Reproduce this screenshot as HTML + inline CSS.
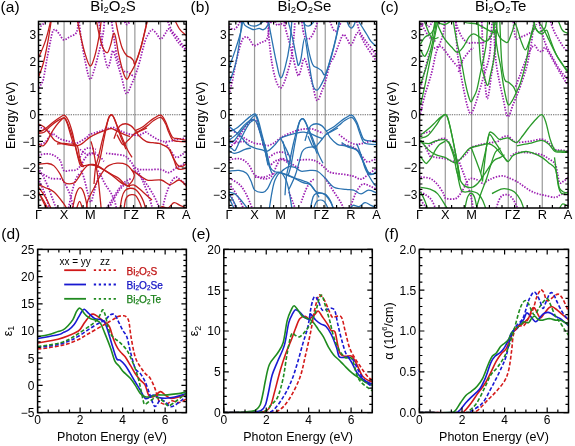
<!DOCTYPE html>
<html><head><meta charset="utf-8"><style>
html,body{margin:0;padding:0;background:#fff;width:575px;height:446px;overflow:hidden;}
svg{display:block;will-change:transform;font-family:"Liberation Sans", sans-serif;}
</style></head><body>
<svg width="575" height="446" viewBox="0 0 575 446" font-family='"Liberation Sans", sans-serif'>
<rect width="575" height="446" fill="#fff"/>
<clipPath id="clipa"><rect x="38.5" y="21.4" width="147.8" height="186.6"/></clipPath>
<line x1="64.07" y1="21.4" x2="64.07" y2="208" stroke="#999" stroke-width="1.2"/>
<line x1="90.23" y1="21.4" x2="90.23" y2="208" stroke="#999" stroke-width="1.2"/>
<line x1="126.74" y1="21.4" x2="126.74" y2="208" stroke="#999" stroke-width="1.2"/>
<line x1="134.87" y1="21.4" x2="134.87" y2="208" stroke="#999" stroke-width="1.2"/>
<line x1="160.58" y1="21.4" x2="160.58" y2="208" stroke="#999" stroke-width="1.2"/>
<line x1="38.5" y1="114.7" x2="186.3" y2="114.7" stroke="#6a6a6a" stroke-width="1.1" stroke-dasharray="1.3,1.0"/>
<g clip-path="url(#clipa)" fill="none">
<path d="M38,90.71C38.42,89.82 39.6,87.33 40.5,85.38C41.4,83.42 42.32,83.42 43.4,78.98C44.48,74.54 45.8,65.16 47,58.72C48.2,52.28 49.68,44.77 50.6,40.33C51.52,35.88 51.77,33.84 52.5,32.06C53.23,30.29 53.87,29.35 55,29.66C56.13,29.97 57.85,32.24 59.3,33.93C60.75,35.62 61.98,39.3 63.7,39.79C65.42,40.28 67.65,37.84 69.6,36.86C71.55,35.88 74.07,35.35 75.4,33.93C76.73,32.51 77.12,30.86 77.6,28.33C78.08,25.8 78.18,20.33 78.3,18.73" stroke="#9c1eb2" stroke-width="1.75" stroke-dasharray="1.45,1.4"/>
<path d="M78.3,13.4C78.75,17.4 79.78,29.09 81,37.39C82.22,45.7 84.1,56.28 85.6,63.25C87.1,70.23 88.53,78.27 90,79.25C91.47,80.22 92.95,73.47 94.4,69.12C95.85,64.76 97.25,58.99 98.7,53.12C100.15,47.26 102.13,39.66 103.1,33.93C104.07,28.2 104.27,21.27 104.5,18.73" stroke="#9c1eb2" stroke-width="1.75" stroke-dasharray="1.45,1.4"/>
<path d="M98,13.4C98.33,16.07 99.17,23.62 100,29.4C100.83,35.17 102,42.5 103,48.06C104,53.61 105.13,59.48 106,62.72C106.87,65.96 107.45,67.96 108.2,67.52C108.95,67.07 109.7,62.85 110.5,60.05C111.3,57.25 111.87,50.19 113,50.72C114.13,51.26 115.85,58.76 117.3,63.25C118.75,67.74 120.2,72.58 121.7,77.65C123.2,82.71 124.6,92.66 126.3,93.64C128,94.62 130.45,86.44 131.9,83.51C133.35,80.58 133.78,79.42 135,76.05C136.22,72.67 137.53,69.03 139.2,63.25C140.87,57.48 143.3,46.5 145,41.39C146.7,36.28 148.18,34.55 149.4,32.6C150.62,30.64 151.08,29.44 152.3,29.66C153.52,29.89 155.3,32.37 156.7,33.93C158.1,35.48 159.25,39.08 160.7,38.99C162.15,38.9 164.13,35.08 165.4,33.4C166.67,31.71 167.08,28.78 168.3,28.86C169.52,28.95 171,31.62 172.7,33.93C174.4,36.24 176.2,39.93 178.5,42.73C180.8,45.52 185.17,49.39 186.5,50.72" stroke="#9c1eb2" stroke-width="1.75" stroke-dasharray="1.45,1.4"/>
<path d="M110.5,13.4C111.38,19.49 114.43,41.88 115.8,49.92C117.17,57.96 117.48,58.23 118.7,61.65C119.92,65.07 121.63,68.72 123.1,70.45C124.57,72.18 126.18,71.34 127.5,72.05C128.82,72.76 129.93,74.05 131,74.71C132.07,75.38 133.42,75.82 133.9,76.05" stroke="#9c1eb2" stroke-width="1.75" stroke-dasharray="1.45,1.4"/>
<path d="M165,13.4C166.03,16.11 169.2,25.75 171.2,29.66C173.2,33.57 175.05,34.2 177,36.86C178.95,39.53 181.32,43.44 182.9,45.66C184.48,47.88 185.9,49.43 186.5,50.19" stroke="#9c1eb2" stroke-width="1.75" stroke-dasharray="1.45,1.4"/>
<path d="M38,24.07C38.5,24.38 40,26.15 41,25.93C42,25.71 43.33,23.93 44,22.73C44.67,21.53 44.83,19.4 45,18.73" stroke="#9c1eb2" stroke-width="1.75" stroke-dasharray="1.45,1.4"/>
<path d="M122,13.4C122.67,15.18 124.67,22.73 126,24.07C127.33,25.4 128.67,23.18 130,21.4C131.33,19.62 133.33,14.74 134,13.4" stroke="#9c1eb2" stroke-width="1.75" stroke-dasharray="1.45,1.4"/>
<path d="M38,126.7C39.02,127.05 41.3,127.45 44.1,128.83C46.9,130.21 52.12,133.27 54.8,134.96C57.48,136.65 58.4,138.03 60.2,138.96C62,139.89 63.8,140.07 65.6,140.56C67.4,141.05 69.2,141.45 71,141.89C72.8,142.33 74.62,143.45 76.4,143.22C78.18,143 79.92,141.58 81.7,140.56C83.48,139.54 85.72,138.11 87.1,137.09C88.48,136.07 88.1,135.31 90,134.43C91.9,133.54 94.85,132.92 98.5,131.76C102.15,130.61 108.77,127.85 111.9,127.5C115.03,127.14 115.28,128.83 117.3,129.63C119.32,130.43 121.77,131.49 124,132.29C126.23,133.09 128.23,133.94 130.7,134.43C133.17,134.91 136.42,135.58 138.8,135.23C141.18,134.87 143.47,132.92 145,132.29C146.53,131.67 147.5,131.63 148,131.49" stroke="#9c1eb2" stroke-width="1.75" stroke-dasharray="1.45,1.4"/>
<path d="M38,144.56C38.33,144.56 38.77,145 40,144.56C41.23,144.11 43.82,143.22 45.4,141.89C46.98,140.56 48.07,137.98 49.5,136.56C50.93,135.14 53.25,133.89 54,133.36" stroke="#9c1eb2" stroke-width="1.75" stroke-dasharray="1.45,1.4"/>
<path d="M38,155.22C39.47,155 44.22,153.89 46.8,153.89C49.38,153.89 51.27,154.11 53.5,155.22C55.73,156.33 58.5,158.02 60.2,160.55C61.9,163.08 61.98,168.77 63.7,170.41C65.42,172.06 68.35,170.55 70.5,170.41C72.65,170.28 74.85,170.5 76.6,169.61C78.35,168.73 79.5,167.13 81,165.08C82.5,163.04 84.08,159.35 85.6,157.35C87.12,155.35 88.35,153.57 90.1,153.09C91.85,152.6 94.35,153.71 96.1,154.42C97.85,155.13 99.28,156.2 100.6,157.35C101.92,158.51 103.43,160.68 104,161.35" stroke="#9c1eb2" stroke-width="1.75" stroke-dasharray="1.45,1.4"/>
<path d="M80,149.35C80.83,150.02 83.33,152.46 85,153.35C86.67,154.24 88.17,154.91 90,154.69C91.83,154.46 95,152.46 96,152.02" stroke="#9c1eb2" stroke-width="1.75" stroke-dasharray="1.45,1.4"/>
<path d="M80,157.35C80.83,156.02 83.33,150.91 85,149.35C86.67,147.8 88.17,148.02 90,148.02C91.83,148.02 95,149.13 96,149.35" stroke="#9c1eb2" stroke-width="1.75" stroke-dasharray="1.45,1.4"/>
<path d="M38,172.55C39,172.9 41.83,173.7 44,174.68C46.17,175.66 48.08,177.66 51,178.41C53.92,179.17 59.17,178.28 61.5,179.21C63.83,180.14 63.58,181.43 65,184.01C66.42,186.59 68.5,190.23 70,194.67C71.5,199.11 73.33,208 74,210.67" stroke="#9c1eb2" stroke-width="1.75" stroke-dasharray="1.45,1.4"/>
<path d="M38,168.01C38.83,169.35 41.33,172.9 43,176.01C44.67,179.12 46.33,182.68 48,186.67C49.67,190.67 51.5,196 53,200C54.5,204 56.33,208.89 57,210.67" stroke="#9c1eb2" stroke-width="1.75" stroke-dasharray="1.45,1.4"/>
<path d="M38,178.68C38.67,180.01 40.67,183.56 42,186.67C43.33,189.78 44.67,193.34 46,197.34C47.33,201.34 49.33,208.44 50,210.67" stroke="#9c1eb2" stroke-width="1.75" stroke-dasharray="1.45,1.4"/>
<path d="M68,210.67C68.67,207.56 70.67,197.34 72,192.01C73.33,186.67 74.67,181.79 76,178.68C77.33,175.57 79.33,174.23 80,173.35" stroke="#9c1eb2" stroke-width="1.75" stroke-dasharray="1.45,1.4"/>
<path d="M81,170.68C81.5,171.88 82.92,174.32 84,177.88C85.08,181.43 86.37,187.96 87.5,192.01C88.63,196.05 89.72,202.14 90.8,202.14C91.88,202.14 92.87,195.78 94,192.01C95.13,188.23 96.6,182.59 97.6,179.48C98.6,176.37 99.6,174.37 100,173.35" stroke="#9c1eb2" stroke-width="1.75" stroke-dasharray="1.45,1.4"/>
<path d="M106,153.35C106.98,153.44 110.23,153.71 111.9,153.89C113.57,154.06 113.82,154.06 116,154.42C118.18,154.77 122.5,154.77 125,156.02C127.5,157.26 129,159.75 131,161.88C133,164.02 134.23,167.53 137,168.81C139.77,170.1 143.58,169.48 147.6,169.61C151.62,169.75 157.6,169.13 161.1,169.61C164.6,170.1 166.1,172.81 168.6,172.55C171.1,172.28 173.85,169.26 176.1,168.01C178.35,166.77 180.37,166.1 182.1,165.08C183.83,164.06 185.77,162.42 186.5,161.88" stroke="#9c1eb2" stroke-width="1.75" stroke-dasharray="1.45,1.4"/>
<path d="M165.6,142.42C166.35,143.67 168.35,147.4 170.1,149.89C171.85,152.38 174.1,156.6 176.1,157.35C178.1,158.11 180.37,155.4 182.1,154.42C183.83,153.44 185.77,151.98 186.5,151.49" stroke="#9c1eb2" stroke-width="1.75" stroke-dasharray="1.45,1.4"/>
<path d="M147.9,133.36C148.92,134.03 152.05,136.2 154,137.36C155.95,138.51 157.7,139.58 159.6,140.29C161.5,141 163.33,141.53 165.4,141.62C167.47,141.71 169.9,141.22 172,140.82C174.1,140.42 175.58,139.67 178,139.22C180.42,138.78 185.08,138.34 186.5,138.16" stroke="#9c1eb2" stroke-width="1.75" stroke-dasharray="1.45,1.4"/>
<path d="M133,165.35C133.42,166.33 133.57,168.55 135.5,171.21C137.43,173.88 141.58,177.34 144.6,181.34C147.62,185.34 151.35,191.21 153.6,195.2C155.85,199.2 157.2,202.76 158.1,205.33C159,207.91 158.85,209.78 159,210.67" stroke="#9c1eb2" stroke-width="1.75" stroke-dasharray="1.45,1.4"/>
<path d="M138,170.68C139,172.9 142,179.12 144,184.01C146,188.9 148.5,195.56 150,200C151.5,204.45 152.5,208.89 153,210.67" stroke="#9c1eb2" stroke-width="1.75" stroke-dasharray="1.45,1.4"/>
<path d="M162,210.67C162.67,208 164.5,199.34 166,194.67C167.5,190.01 169.32,185.61 171,182.68C172.68,179.74 174.27,177.3 176.1,177.08C177.93,176.86 180.27,180.19 182,181.34C183.73,182.5 185.75,183.56 186.5,184.01" stroke="#9c1eb2" stroke-width="1.75" stroke-dasharray="1.45,1.4"/>
<path d="M105.2,210.67C106.3,208.89 109.6,203.51 111.8,200C114,196.49 116.42,192.45 118.4,189.61C120.38,186.76 122.17,184.5 123.7,182.94C125.23,181.39 126.38,180.99 127.6,180.28C128.82,179.57 130.43,178.94 131,178.68" stroke="#9c1eb2" stroke-width="1.75" stroke-dasharray="1.45,1.4"/>
<path d="M108,210.67C109,208.67 112,202.22 114,198.67C116,195.12 118.17,191.69 120,189.34C121.83,186.99 123.5,185.65 125,184.54C126.5,183.43 128.33,182.99 129,182.68" stroke="#9c1eb2" stroke-width="1.75" stroke-dasharray="1.45,1.4"/>
<path d="M98,170.68C98.53,171.61 100,174.01 101.2,176.28C102.4,178.54 103.65,181.61 105.2,184.28C106.75,186.94 108.97,189.61 110.5,192.27C112.03,194.94 113.32,197.2 114.4,200.27C115.48,203.33 116.57,208.93 117,210.67" stroke="#9c1eb2" stroke-width="1.75" stroke-dasharray="1.45,1.4"/>
<path d="M38,57.39C38.22,57.16 38.03,58.9 39.3,56.05C40.57,53.21 43.73,46.1 45.6,40.33C47.47,34.55 49.52,25.89 50.5,21.4C51.48,16.91 51.33,14.74 51.5,13.4" stroke="#c21e1e" stroke-width="1.3"/>
<path d="M38,78.45C38.88,75.91 41.68,69.21 43.3,63.25C44.92,57.3 46.37,49.92 47.7,42.73C49.03,35.53 50.58,24.95 51.3,20.07C52.02,15.18 51.88,14.51 52,13.4" stroke="#c21e1e" stroke-width="1.3"/>
<path d="M76.5,13.4C76.68,14.74 76.82,17.22 77.6,21.4C78.38,25.58 79.98,33.17 81.2,38.46C82.42,43.75 83.43,48.55 84.9,53.12C86.37,57.7 88.42,65.21 90,65.92C91.58,66.63 92.95,61.96 94.4,57.39C95.85,52.81 97.52,44.9 98.7,38.46C99.88,32.02 101.03,22.02 101.5,18.73" stroke="#c21e1e" stroke-width="1.3"/>
<path d="M95.5,13.4C95.72,14.96 96.13,18.96 96.8,22.73C97.47,26.51 98.47,31.84 99.5,36.06C100.53,40.28 101.68,45.3 103,48.06C104.32,50.81 106.15,53.03 107.4,52.59C108.65,52.14 109.33,48.59 110.5,45.39C111.67,42.19 113.03,31.89 114.4,33.4C115.77,34.91 117.25,48.01 118.7,54.45C120.15,60.9 121.75,67.92 123.1,72.05C124.45,76.18 125.58,79.02 126.8,79.25C128.02,79.47 129.02,75.83 130.4,73.38C131.78,70.94 133.4,68.72 135.1,64.58C136.8,60.45 138.95,54.19 140.6,48.59C142.25,42.99 143.9,35.53 145,31C146.1,26.46 146.7,24.33 147.2,21.4C147.7,18.47 147.87,14.74 148,13.4" stroke="#c21e1e" stroke-width="1.3"/>
<path d="M115,13.4C115.13,14.74 115.18,17.71 115.8,21.4C116.42,25.09 117.6,31 118.7,35.53C119.8,40.06 121.05,45.21 122.4,48.59C123.75,51.97 125.47,54.32 126.8,55.79C128.13,57.25 129.32,56.63 130.4,57.39C131.48,58.14 132.52,59.3 133.3,60.32C134.08,61.34 133.88,65.56 135.1,63.52C136.32,61.47 138.95,53.57 140.6,48.06C142.25,42.55 143.87,35.35 145,30.46C146.13,25.58 147,20.69 147.4,18.73" stroke="#c21e1e" stroke-width="1.3"/>
<path d="M172,13.4C172.6,14.78 174.27,18.96 175.6,21.67C176.93,24.38 178.53,27.62 180,29.66C181.47,31.71 183.32,33 184.4,33.93C185.48,34.86 186.15,35.04 186.5,35.26" stroke="#c21e1e" stroke-width="1.3"/>
<path d="M38,123.76C39.02,124.3 42.18,125.32 44.1,126.96C46.02,128.61 47.72,131.36 49.5,133.63C51.28,135.89 52.57,138.87 54.8,140.56C57.03,142.25 60.43,143 62.9,143.76C65.37,144.51 67.58,144.73 69.6,145.09C71.62,145.44 73.2,145.98 75,145.89C76.8,145.8 78.6,145.44 80.4,144.56C82.2,143.67 84.2,141.8 85.8,140.56C87.4,139.31 87.88,138.38 90,137.09C92.12,135.8 95.52,134.12 98.5,132.83C101.48,131.54 105.67,130.07 107.9,129.36C110.13,128.65 110.33,128.25 111.9,128.56C113.47,128.87 115.28,130.25 117.3,131.23C119.32,132.2 121.88,133.54 124,134.43C126.12,135.31 129,136.2 130,136.56" stroke="#c21e1e" stroke-width="1.3"/>
<path d="M38,132.29C39.02,131.85 41.75,131.18 44.1,129.63C46.45,128.07 49.87,124.74 52.1,122.96C54.33,121.19 55.7,120.21 57.5,118.97C59.3,117.72 61.67,116.08 62.9,115.5C64.13,114.92 64,114.7 64.9,115.5C65.8,116.3 67.07,117.5 68.3,120.3C69.53,123.1 71.18,128.25 72.3,132.29C73.42,136.34 74.1,140.51 75,144.56C75.9,148.6 76.8,153.09 77.7,156.55C78.6,160.02 79.35,163.66 80.4,165.35C81.45,167.04 83.4,166.46 84,166.68" stroke="#c21e1e" stroke-width="1.3"/>
<path d="M38,133.36C39.02,133.18 42.18,133.36 44.1,132.29C46.02,131.23 47.48,128.74 49.5,126.96C51.52,125.19 53.97,123.1 56.2,121.63C58.43,120.16 61.33,118.61 62.9,118.17C64.47,117.72 64.48,117.28 65.6,118.97C66.72,120.65 68.25,124.7 69.6,128.3C70.95,131.89 72.57,136.96 73.7,140.56C74.83,144.16 75.52,146.78 76.4,149.89C77.28,153 78.07,156.64 79,159.22C79.93,161.79 81.5,164.33 82,165.35" stroke="#c21e1e" stroke-width="1.3"/>
<path d="M38,143.22C38.78,143.67 41.23,146.11 42.7,145.89C44.17,145.67 45.45,143.89 46.8,141.89C48.15,139.89 49.23,136.6 50.8,133.89C52.37,131.18 54.4,128.03 56.2,125.63C58,123.23 60.25,120.79 61.6,119.5C62.95,118.21 63.4,117.37 64.3,117.9C65.2,118.43 65.88,119.68 67,122.7C68.12,125.72 69.83,132.2 71,136.03C72.17,139.85 73.5,144.02 74,145.62" stroke="#c21e1e" stroke-width="1.3"/>
<path d="M94,184.01C94.25,181.34 94.75,172.59 95.5,168.01C96.25,163.44 97.42,160.99 98.5,156.55C99.58,152.11 100.75,146.33 102,141.36C103.25,136.38 104.83,130.69 106,126.7C107.17,122.7 108.13,119.37 109,117.37C109.87,115.37 110.53,114.92 111.2,114.7C111.87,114.48 112.2,114.66 113,116.03C113.8,117.41 114.83,120.25 116,122.96C117.17,125.67 118.67,129.14 120,132.29C121.33,135.45 122.67,138.82 124,141.89C125.33,144.96 126.67,148.11 128,150.69C129.33,153.26 131.33,156.24 132,157.35" stroke="#c21e1e" stroke-width="1.3"/>
<path d="M97,168.01C97.5,166.55 98.83,164.1 100,159.22C101.17,154.33 102.67,145.22 104,138.69C105.33,132.16 107,123.85 108,120.03C109,116.21 109.25,116.52 110,115.77C110.75,115.01 111.67,114.79 112.5,115.5C113.33,116.21 114.08,117.72 115,120.03C115.92,122.34 116.83,126.03 118,129.36C119.17,132.69 120.67,136.69 122,140.02C123.33,143.36 125.33,147.8 126,149.35" stroke="#c21e1e" stroke-width="1.3"/>
<path d="M114,138.69C114.5,137.36 116,132.87 117,130.69C118,128.52 118.6,126.78 120,125.63C121.4,124.47 123.62,123.76 125.4,123.76C127.18,123.76 129.08,124.56 130.7,125.63C132.32,126.7 133.68,128.43 135.1,130.16C136.52,131.89 137.32,134.12 139.2,136.03C141.08,137.94 144.1,140.51 146.4,141.62C148.7,142.73 150.9,142.38 153,142.69C155.1,143 157.4,143.13 159,143.49C160.6,143.85 161,143.98 162.6,144.82C164.2,145.67 166.85,146.47 168.6,148.55C170.35,150.64 171.6,154.6 173.1,157.35C174.6,160.11 176.1,163.57 177.6,165.08C179.1,166.59 180.62,166.68 182.1,166.41C183.58,166.15 185.77,163.97 186.5,163.48" stroke="#c21e1e" stroke-width="1.3"/>
<path d="M135.1,130.69C136.27,130.12 139.97,128.56 142.1,127.23C144.23,125.9 145.97,124.16 147.9,122.7C149.83,121.23 151.57,119.68 153.7,118.43C155.83,117.19 158.75,114.74 160.7,115.23C162.65,115.72 164.13,119.14 165.4,121.36C166.67,123.59 167.08,125.9 168.3,128.56C169.52,131.23 171,135.67 172.7,137.36C174.4,139.05 176.2,138.2 178.5,138.69C180.8,139.18 185.17,140.02 186.5,140.29" stroke="#c21e1e" stroke-width="1.3"/>
<path d="M135.1,133.36C136.27,132.69 139.97,130.69 142.1,129.36C144.23,128.03 145.97,126.83 147.9,125.36C149.83,123.9 151.57,121.9 153.7,120.56C155.83,119.23 158.75,116.88 160.7,117.37C162.65,117.85 164.13,121.19 165.4,123.5C166.67,125.81 167.08,128.47 168.3,131.23C169.52,133.98 171,138.34 172.7,140.02C174.4,141.71 176.2,141.05 178.5,141.36C180.8,141.67 185.17,141.8 186.5,141.89" stroke="#c21e1e" stroke-width="1.3"/>
<path d="M117,134.69C117.95,136.34 121.03,143.45 122.7,144.56C124.37,145.67 125.62,142.56 127,141.36C128.38,140.16 129.67,138.69 131,137.36C132.33,136.03 133.33,134.47 135,133.36C136.67,132.25 139,131.58 141,130.69C143,129.81 146,128.47 147,128.03" stroke="#c21e1e" stroke-width="1.3"/>
<path d="M38,164.28C39.67,164.15 45.33,163.22 48,163.48C50.67,163.75 52,164.15 54,165.88C56,167.61 58.25,171.12 60,173.88C61.75,176.63 62.25,180.85 64.5,182.41C66.75,183.96 71.25,183.88 73.5,183.21C75.75,182.54 76.48,180.45 78,178.41C79.52,176.37 81.08,173.03 82.6,170.95C84.12,168.86 85.85,166.95 87.1,165.88C88.35,164.82 88.6,164.73 90.1,164.55C91.6,164.37 93.85,163.97 96.1,164.82C98.35,165.66 100.95,167.97 103.6,169.61C106.25,171.26 109.43,173.21 112,174.68C114.57,176.14 116.83,176.77 119,178.41C121.17,180.05 123.17,183.16 125,184.54C126.83,185.92 129.17,186.32 130,186.67" stroke="#c21e1e" stroke-width="1.3"/>
<path d="M57,144.02C58,143.93 60.83,143.49 63,143.49C65.17,143.49 67.67,143.71 70,144.02C72.33,144.33 75.4,143.13 77,145.36C78.6,147.58 78.67,154.06 79.6,157.35C80.53,160.64 81.53,163.75 82.6,165.08C83.67,166.41 84.75,165.44 86,165.35C87.25,165.26 89.42,164.68 90.1,164.55" stroke="#c21e1e" stroke-width="1.3"/>
<path d="M38,184.54C39.17,185.03 42.33,186.23 45,187.47C47.67,188.72 51,189.47 54,192.01C57,194.54 60.67,199.56 63,202.67C65.33,205.78 67.17,209.33 68,210.67" stroke="#c21e1e" stroke-width="1.3"/>
<path d="M38,186.67C38.67,187.56 40.5,189.78 42,192.01C43.5,194.23 45.33,196.89 47,200C48.67,203.11 51.17,208.89 52,210.67" stroke="#c21e1e" stroke-width="1.3"/>
<path d="M38,190.67C38.5,191.78 39.83,194.89 41,197.34C42.17,199.78 43.83,203.11 45,205.33C46.17,207.56 47.5,209.78 48,210.67" stroke="#c21e1e" stroke-width="1.3"/>
<path d="M40,194.67C40.67,195.78 42.5,198.67 44,201.34C45.5,204 48.17,209.11 49,210.67" stroke="#c21e1e" stroke-width="1.3"/>
<path d="M72,210.67C72.63,208 74.53,198.49 75.8,194.67C77.07,190.85 78.35,188.27 79.6,187.74C80.85,187.21 82.18,189.07 83.3,191.47C84.42,193.87 85.6,198.94 86.3,202.14C87,205.33 87.3,209.24 87.5,210.67" stroke="#c21e1e" stroke-width="1.3"/>
<path d="M90.1,164.55C91.07,164.77 93.6,164.99 95.9,165.88C98.2,166.77 101.25,168.33 103.9,169.88C106.55,171.44 109.17,173.26 111.8,175.21C114.43,177.17 117.72,180.1 119.7,181.61C121.68,183.12 122.38,183.61 123.7,184.28C125.02,184.94 125.83,185.47 127.6,185.61C129.37,185.74 132.23,184.45 134.3,185.07C136.37,185.7 138.05,187.74 140,189.34C141.95,190.94 144,192.89 146,194.67C148,196.45 151,199.11 152,200" stroke="#c21e1e" stroke-width="1.3"/>
<path d="M86,210.67C86.33,208.89 86.57,203.96 88,200C89.43,196.05 92.62,190.89 94.6,186.94C96.58,182.99 98.13,179.34 99.9,176.28C101.67,173.21 103.67,170.37 105.2,168.55C106.73,166.73 107.12,166.24 109.1,165.35C111.08,164.46 114.23,163.35 117.1,163.22C119.97,163.08 123.88,163.44 126.3,164.55C128.72,165.66 130.27,168.1 131.6,169.88C132.93,171.66 134.23,173.3 134.3,175.21C134.37,177.12 133.22,179.43 132,181.34C130.78,183.25 127.83,185.79 127,186.67" stroke="#c21e1e" stroke-width="1.3"/>
<path d="M131.6,169.88C133.15,170.95 138.17,174.55 140.9,176.28C143.63,178.01 144.63,179.65 148,180.28C151.37,180.9 157.42,179.3 161.1,180.01C164.78,180.72 167.1,184.54 170.1,184.54C173.1,184.54 176.37,179.74 179.1,180.01C181.83,180.28 185.27,185.12 186.5,186.14" stroke="#c21e1e" stroke-width="1.3"/>
<path d="M123.7,210.67C124,208.89 124.85,202.4 125.5,200C126.15,197.6 126.6,197.16 127.6,196.27C128.6,195.38 130.17,194.8 131.5,194.67C132.83,194.54 134.43,194.58 135.6,195.47C136.77,196.36 137.62,198.31 138.5,200C139.38,201.69 140.32,203.82 140.9,205.6C141.48,207.38 141.82,209.82 142,210.67" stroke="#c21e1e" stroke-width="1.3"/>
<path d="M76,210.67C76.6,209.11 78.43,201.34 79.6,201.34C80.77,201.34 82.43,209.11 83,210.67" stroke="#c21e1e" stroke-width="1.3"/>
<path d="M91,141.36C91.38,142.78 92.48,146.02 93.3,149.89C94.12,153.75 95.02,159.04 95.9,164.55C96.78,170.06 97.72,175.57 98.6,182.94C99.48,190.32 100.72,204.18 101.2,208.8C101.68,213.42 101.45,210.35 101.5,210.67" stroke="#c21e1e" stroke-width="1.3"/>
<path d="M119.7,210.67C120.08,208.44 121.12,200.67 122,197.34C122.88,194 123.67,192.18 125,190.67C126.33,189.16 128.23,188.45 130,188.27C131.77,188.1 133.93,188.54 135.6,189.61C137.27,190.67 138.68,192.67 140,194.67C141.32,196.67 142.48,198.94 143.5,201.6C144.52,204.27 145.67,209.16 146.1,210.67" stroke="#c21e1e" stroke-width="1.3"/>
<path d="M158,210.67C158.67,210 160.33,207.11 162,206.67C163.67,206.22 166,208.67 168,208C170,207.33 172,203.11 174,202.67C176,202.22 177.92,204.45 180,205.33C182.08,206.22 185.42,207.56 186.5,208" stroke="#c21e1e" stroke-width="1.3"/>
<path d="M170,149.35C170.67,151.13 172.83,156.91 174,160.02C175.17,163.13 175.83,166.46 177,168.01C178.17,169.57 179.42,169.35 181,169.35C182.58,169.35 185.58,168.24 186.5,168.01" stroke="#c21e1e" stroke-width="1.3"/>
</g>
<rect x="38.5" y="21.4" width="147.8" height="186.6" fill="none" stroke="#000" stroke-width="1.5"/>
<path d="M38.5,205.33h2.8M186.3,205.33h-2.8M38.5,200h2.8M186.3,200h-2.8M38.5,194.67h4.5M186.3,194.67h-4.5M38.5,189.34h2.8M186.3,189.34h-2.8M38.5,184.01h2.8M186.3,184.01h-2.8M38.5,178.68h2.8M186.3,178.68h-2.8M38.5,173.35h2.8M186.3,173.35h-2.8M38.5,168.01h4.5M186.3,168.01h-4.5M38.5,162.68h2.8M186.3,162.68h-2.8M38.5,157.35h2.8M186.3,157.35h-2.8M38.5,152.02h2.8M186.3,152.02h-2.8M38.5,146.69h2.8M186.3,146.69h-2.8M38.5,141.36h4.5M186.3,141.36h-4.5M38.5,136.03h2.8M186.3,136.03h-2.8M38.5,130.69h2.8M186.3,130.69h-2.8M38.5,125.36h2.8M186.3,125.36h-2.8M38.5,120.03h2.8M186.3,120.03h-2.8M38.5,114.7h4.5M186.3,114.7h-4.5M38.5,109.37h2.8M186.3,109.37h-2.8M38.5,104.04h2.8M186.3,104.04h-2.8M38.5,98.71h2.8M186.3,98.71h-2.8M38.5,93.37h2.8M186.3,93.37h-2.8M38.5,88.04h4.5M186.3,88.04h-4.5M38.5,82.71h2.8M186.3,82.71h-2.8M38.5,77.38h2.8M186.3,77.38h-2.8M38.5,72.05h2.8M186.3,72.05h-2.8M38.5,66.72h2.8M186.3,66.72h-2.8M38.5,61.39h4.5M186.3,61.39h-4.5M38.5,56.05h2.8M186.3,56.05h-2.8M38.5,50.72h2.8M186.3,50.72h-2.8M38.5,45.39h2.8M186.3,45.39h-2.8M38.5,40.06h2.8M186.3,40.06h-2.8M38.5,34.73h4.5M186.3,34.73h-4.5M38.5,29.4h2.8M186.3,29.4h-2.8M38.5,24.07h2.8M186.3,24.07h-2.8M45.3,21.4v3M45.3,208v-3M57.9,21.4v3M57.9,208v-3M70.5,21.4v3M70.5,208v-3M83.1,21.4v3M83.1,208v-3M95.7,21.4v3M95.7,208v-3M108.3,21.4v3M108.3,208v-3M120.9,21.4v3M120.9,208v-3M133.5,21.4v3M133.5,208v-3M146.1,21.4v3M146.1,208v-3M158.7,21.4v3M158.7,208v-3M171.3,21.4v3M171.3,208v-3M183.9,21.4v3M183.9,208v-3" stroke="#000" stroke-width="1.2" fill="none"/>
<text x="36.3" y="198.97" font-size="12" text-anchor="end" fill="#000" >−3</text>
<text x="36.3" y="172.31" font-size="12" text-anchor="end" fill="#000" >−2</text>
<text x="36.3" y="145.66" font-size="12" text-anchor="end" fill="#000" >−1</text>
<text x="36.3" y="119" font-size="12" text-anchor="end" fill="#000" >0</text>
<text x="36.3" y="92.34" font-size="12" text-anchor="end" fill="#000" >1</text>
<text x="36.3" y="65.69" font-size="12" text-anchor="end" fill="#000" >2</text>
<text x="36.3" y="39.03" font-size="12" text-anchor="end" fill="#000" >3</text>
<text x="38.5" y="219" font-size="12.8" text-anchor="middle" fill="#000" >Γ</text>
<text x="64.07" y="219" font-size="12.8" text-anchor="middle" fill="#000" >X</text>
<text x="90.23" y="219" font-size="12.8" text-anchor="middle" fill="#000" >M</text>
<text x="126.74" y="219" font-size="12.8" text-anchor="middle" fill="#000" >Γ</text>
<text x="134.87" y="219" font-size="12.8" text-anchor="middle" fill="#000" >Z</text>
<text x="160.58" y="219" font-size="12.8" text-anchor="middle" fill="#000" >R</text>
<text x="186.3" y="219" font-size="12.8" text-anchor="middle" fill="#000" >A</text>
<text x="90.2" y="11.2" font-size="15" text-anchor="start" fill="#000" >Bi<tspan font-size="9.5" dy="1.6">2</tspan><tspan dy="-1.6">O</tspan><tspan font-size="9.5" dy="1.6">2</tspan><tspan dy="-1.6">S</tspan></text>
<text x="0.6" y="11.6" font-size="15.5" text-anchor="start" fill="#000" >(a)</text>
<text transform="translate(14.9,115.5) rotate(-90)" font-size="12.6" text-anchor="middle">Energy (eV)</text>
<clipPath id="clipb"><rect x="229" y="21.4" width="147.6" height="186.6"/></clipPath>
<line x1="254.53" y1="21.4" x2="254.53" y2="208" stroke="#999" stroke-width="1.2"/>
<line x1="280.66" y1="21.4" x2="280.66" y2="208" stroke="#999" stroke-width="1.2"/>
<line x1="317.12" y1="21.4" x2="317.12" y2="208" stroke="#999" stroke-width="1.2"/>
<line x1="325.24" y1="21.4" x2="325.24" y2="208" stroke="#999" stroke-width="1.2"/>
<line x1="350.92" y1="21.4" x2="350.92" y2="208" stroke="#999" stroke-width="1.2"/>
<line x1="229" y1="114.7" x2="376.6" y2="114.7" stroke="#6a6a6a" stroke-width="1.1" stroke-dasharray="1.3,1.0"/>
<g clip-path="url(#clipb)" fill="none">
<path d="M229,94.71C229.63,92.04 231.68,83.96 232.8,78.71C233.93,73.47 234.28,69.47 235.75,63.25C237.22,57.03 239.89,45.79 241.6,41.39C243.31,36.99 244.6,37.08 246,36.86C247.4,36.64 248.67,38.59 250,40.06C251.33,41.53 252.23,45.21 254,45.66C255.77,46.1 258.53,43.7 260.6,42.73C262.67,41.75 265.08,41.57 266.4,39.79C267.72,38.02 268.02,35.57 268.5,32.06C268.98,28.55 269.17,20.96 269.3,18.73" stroke="#9c1eb2" stroke-width="1.75" stroke-dasharray="1.45,1.4"/>
<path d="M267.5,13.4C267.67,16.51 268.08,26.29 268.5,32.06C268.92,37.84 269.42,42.81 270,48.06C270.58,53.3 271.17,58.63 272,63.52C272.83,68.41 274,73.74 275,77.38C276,81.02 277.05,83.6 278,85.38C278.95,87.15 279.78,88.27 280.7,88.04C281.62,87.82 282.48,86.27 283.5,84.04C284.52,81.82 285.47,79.29 286.8,74.71C288.13,70.14 290.3,63.25 291.5,56.59C292.7,49.92 293.42,41.04 294,34.73C294.58,28.42 294.83,21.4 295,18.73" stroke="#9c1eb2" stroke-width="1.75" stroke-dasharray="1.45,1.4"/>
<path d="M283,13.4C283.4,15.8 284.4,23.13 285.4,27.8C286.4,32.46 287.8,36.77 289,41.39C290.2,46.01 291.43,50.86 292.6,55.52C293.77,60.19 295.02,66.01 296,69.38C296.98,72.76 297.67,75.78 298.5,75.78C299.33,75.78 300.08,72.23 301,69.38C301.92,66.54 302.83,58.94 304,58.72C305.17,58.5 306.55,63.61 308,68.05C309.45,72.49 311.2,79.96 312.7,85.38C314.2,90.8 315.45,99.68 317,100.57C318.55,101.46 320.53,94.13 322,90.71C323.47,87.29 324.47,84.49 325.8,80.05C327.13,75.6 328.55,68.09 330,64.05C331.45,60.01 332.4,60.54 334.5,55.79C336.6,51.03 340.52,38.37 342.6,35.53C344.68,32.68 345.55,37.17 347,38.73C348.45,40.28 349.48,45.88 351.3,44.86C353.12,43.84 355.6,32.68 357.9,32.6C360.2,32.51 362.43,40.19 365.1,44.33C367.77,48.46 371.92,54.54 373.9,57.39C375.88,60.23 376.48,60.72 377,61.39" stroke="#9c1eb2" stroke-width="1.75" stroke-dasharray="1.45,1.4"/>
<path d="M301,13.4C301.5,16.96 302.55,30.55 304,34.73C305.45,38.9 307.77,39.57 309.7,38.46C311.63,37.35 314.22,31.35 315.6,28.06C316.98,24.78 317.6,20.29 318,18.73" stroke="#9c1eb2" stroke-width="1.75" stroke-dasharray="1.45,1.4"/>
<path d="M329,18.73C329.92,20.78 332.83,29.66 334.5,31C336.17,32.33 337.75,28.78 339,26.73C340.25,24.69 341.5,20.07 342,18.73" stroke="#9c1eb2" stroke-width="1.75" stroke-dasharray="1.45,1.4"/>
<path d="M356,18.73C356.67,20.96 358.33,28.29 360,32.06C361.67,35.84 363.83,38.28 366,41.39C368.17,44.5 371.17,48.28 373,50.72C374.83,53.17 376.33,55.17 377,56.05" stroke="#9c1eb2" stroke-width="1.75" stroke-dasharray="1.45,1.4"/>
<path d="M229,26.73C229.83,27.18 232.33,29.84 234,29.4C235.67,28.95 237.83,25.84 239,24.07C240.17,22.29 240.67,19.62 241,18.73" stroke="#9c1eb2" stroke-width="1.75" stroke-dasharray="1.45,1.4"/>
<path d="M265,18.73C265.67,19.62 267.67,24.07 269,24.07C270.33,24.07 272.33,19.62 273,18.73" stroke="#9c1eb2" stroke-width="1.75" stroke-dasharray="1.45,1.4"/>
<path d="M274,18.73C274.5,19.8 275.88,24.33 277,25.13C278.12,25.93 279.53,23.53 280.7,23.53C281.87,23.53 282.95,25.93 284,25.13C285.05,24.33 286.5,19.8 287,18.73" stroke="#9c1eb2" stroke-width="1.75" stroke-dasharray="1.45,1.4"/>
<path d="M229,128.56C230.47,129.41 235,131.89 237.8,133.63C240.6,135.36 243.12,137.4 245.8,138.96C248.48,140.51 251.2,142.07 253.9,142.96C256.6,143.85 259.75,143.85 262,144.29C264.25,144.73 265.38,145.84 267.4,145.62C269.42,145.4 271.87,144.29 274.1,142.96C276.33,141.62 278.23,139.22 280.8,137.63C283.37,136.03 286.27,134.69 289.5,133.36C292.73,132.03 296.62,130.38 300.2,129.63C303.78,128.87 308.2,128.65 311,128.83C313.8,129.01 315,129.94 317,130.69C319,131.45 322,132.92 323,133.36" stroke="#9c1eb2" stroke-width="1.75" stroke-dasharray="1.45,1.4"/>
<path d="M229,146.69C230,146.02 232.67,145.36 235,142.69C237.33,140.02 240.67,134.03 243,130.69C245.33,127.36 247.18,124.56 249,122.7C250.82,120.83 252.57,119.5 253.9,119.5C255.23,119.5 255.82,120.16 257,122.7C258.18,125.23 259.83,130.69 261,134.69C262.17,138.69 263.5,144.69 264,146.69" stroke="#9c1eb2" stroke-width="1.75" stroke-dasharray="1.45,1.4"/>
<path d="M338.9,134.43C339.92,135.23 343.05,137.84 345,139.22C346.95,140.61 348.7,141.89 350.6,142.74C352.5,143.6 354.33,144.24 356.4,144.34C358.47,144.45 360.9,143.86 363,143.38C365.1,142.9 366.58,142 369,141.46C371.42,140.93 376.08,140.4 377.5,140.18" stroke="#9c1eb2" stroke-width="1.75" stroke-dasharray="1.45,1.4"/>
<path d="M229,159.75C230.77,159.57 236.43,158.02 239.6,158.68C242.77,159.35 245.53,161.13 248,163.75C250.47,166.37 251.93,171.92 254.4,174.41C256.87,176.9 260,178.32 262.8,178.68C265.6,179.03 268.75,179.03 271.2,176.54C273.65,174.06 275.92,166.73 277.5,163.75C279.08,160.77 278.95,159.17 280.7,158.68C282.45,158.2 285.78,159.71 288,160.82C290.22,161.93 292.17,164.15 294,165.35C295.83,166.55 298.17,167.57 299,168.01" stroke="#9c1eb2" stroke-width="1.75" stroke-dasharray="1.45,1.4"/>
<path d="M269,166.68C270,165.79 273.08,162.55 275,161.35C276.92,160.15 278.67,159.48 280.5,159.48C282.33,159.48 284.08,160.15 286,161.35C287.92,162.55 291,165.79 292,166.68" stroke="#9c1eb2" stroke-width="1.75" stroke-dasharray="1.45,1.4"/>
<path d="M269,157.35C270,156.69 273.08,154.24 275,153.35C276.92,152.46 278.67,152.02 280.5,152.02C282.33,152.02 284.08,152.46 286,153.35C287.92,154.24 291,156.69 292,157.35" stroke="#9c1eb2" stroke-width="1.75" stroke-dasharray="1.45,1.4"/>
<path d="M255,177.08C256.55,177.08 261.72,177.48 264.3,177.08C266.88,176.68 268.72,175.3 270.5,174.68C272.28,174.06 274.25,173.57 275,173.35" stroke="#9c1eb2" stroke-width="1.75" stroke-dasharray="1.45,1.4"/>
<path d="M229,177.88C230.67,178.9 236.33,181.65 239,184.01C241.67,186.36 243.17,188.9 245,192.01C246.83,195.12 248.67,199.56 250,202.67C251.33,205.78 252.5,209.33 253,210.67" stroke="#9c1eb2" stroke-width="1.75" stroke-dasharray="1.45,1.4"/>
<path d="M229,184.01C230,185.34 233,188.9 235,192.01C237,195.12 239.5,199.56 241,202.67C242.5,205.78 243.5,209.33 244,210.67" stroke="#9c1eb2" stroke-width="1.75" stroke-dasharray="1.45,1.4"/>
<path d="M229,192.01C229.67,193.34 231.67,196.89 233,200C234.33,203.11 236.33,208.89 237,210.67" stroke="#9c1eb2" stroke-width="1.75" stroke-dasharray="1.45,1.4"/>
<path d="M297,160.02C299.17,159.97 306.58,159.44 310,159.75C313.42,160.06 315,160.51 317.5,161.88C320,163.26 322.75,166.24 325,168.01C327.25,169.79 327.48,171.44 331,172.55C334.52,173.66 342.33,174.06 346.1,174.68C349.87,175.3 351.1,175.52 353.6,176.28C356.1,177.03 358.6,179.57 361.1,179.21C363.6,178.85 365.95,176.01 368.6,174.15C371.25,172.28 375.6,169.04 377,168.01" stroke="#9c1eb2" stroke-width="1.75" stroke-dasharray="1.45,1.4"/>
<path d="M341.6,144.02C343.33,144.47 349.5,145.8 352,146.69C354.5,147.58 355.1,148.02 356.6,149.35C358.1,150.69 359.25,152.6 361,154.69C362.75,156.77 365.1,160.99 367.1,161.88C369.1,162.77 371.35,160.51 373,160.02C374.65,159.53 376.33,159.13 377,158.95" stroke="#9c1eb2" stroke-width="1.75" stroke-dasharray="1.45,1.4"/>
<path d="M325,177.88C326.5,180.23 331.33,187.87 334,192.01C336.67,196.14 339.33,199.56 341,202.67C342.67,205.78 343.5,209.33 344,210.67" stroke="#9c1eb2" stroke-width="1.75" stroke-dasharray="1.45,1.4"/>
<path d="M349,210.67C349.67,208.89 351.67,203.34 353,200C354.33,196.67 355.33,193.34 357,190.67C358.67,188.01 360.67,184.67 363,184.01C365.33,183.34 368.67,185.79 371,186.67C373.33,187.56 376,188.9 377,189.34" stroke="#9c1eb2" stroke-width="1.75" stroke-dasharray="1.45,1.4"/>
<path d="M289,192.01C289.67,193.78 291.83,199.56 293,202.67C294.17,205.78 295.5,209.33 296,210.67" stroke="#9c1eb2" stroke-width="1.75" stroke-dasharray="1.45,1.4"/>
<path d="M301,202.67C301.83,200.45 304.33,192.89 306,189.34C307.67,185.79 309.5,183.12 311,181.34C312.5,179.57 314.33,179.12 315,178.68" stroke="#9c1eb2" stroke-width="1.75" stroke-dasharray="1.45,1.4"/>
<path d="M229,141.36C230.33,141.58 234.67,142.69 237,142.69C239.33,142.69 241,141.13 243,141.36C245,141.58 248,143.58 249,144.02" stroke="#9c1eb2" stroke-width="1.75" stroke-dasharray="1.45,1.4"/>
<path d="M229,67.52C230.12,64.36 233.65,55.12 235.75,48.59C237.85,42.06 240.39,34.2 241.6,28.33C242.81,22.47 242.77,15.89 243,13.4" stroke="#2a72b0" stroke-width="1.3"/>
<path d="M229,83.51C230.12,80.13 233.9,71.03 235.75,63.25C237.6,55.48 238.97,45.17 240.1,36.86C241.22,28.55 242.1,17.31 242.5,13.4" stroke="#2a72b0" stroke-width="1.3"/>
<path d="M242,18.73C242.5,19.84 243.62,23.8 245,25.4C246.38,27 248.8,27.62 250.3,28.33C251.8,29.04 252.53,29.66 254,29.66C255.47,29.66 257.52,28.33 259.1,28.33C260.68,28.33 262.05,30.2 263.5,29.66C264.95,29.13 266.88,26.95 267.8,25.13C268.72,23.31 268.8,19.8 269,18.73" stroke="#2a72b0" stroke-width="1.3"/>
<path d="M246,18.73C246.5,19.71 247.67,23.35 249,24.6C250.33,25.84 252.33,26.2 254,26.2C255.67,26.2 257.17,25.62 259,24.6C260.83,23.58 263.83,21.04 265,20.07C266.17,19.09 265.83,18.96 266,18.73" stroke="#2a72b0" stroke-width="1.3"/>
<path d="M267.5,13.4C267.68,14.87 267.82,17.53 268.6,22.2C269.38,26.86 270.87,34.55 272.2,41.39C273.53,48.23 275.18,57.16 276.6,63.25C278.02,69.34 279.23,77.42 280.7,77.91C282.17,78.4 283.9,71.78 285.4,66.18C286.9,60.59 288.6,52.23 289.7,44.33C290.8,36.42 291.62,23 292,18.73" stroke="#2a72b0" stroke-width="1.3"/>
<path d="M287.5,13.4C287.63,14.74 287.45,17.22 288.3,21.4C289.15,25.58 291.15,31.97 292.6,38.46C294.05,44.95 296.02,55.83 297,60.32C297.98,64.81 297.83,65.65 298.5,65.38C299.17,65.12 299.98,63.21 301,58.72C302.02,54.23 303.38,38.46 304.6,38.46C305.82,38.46 306.95,51.08 308.3,58.72C309.65,66.36 311.25,79.07 312.7,84.31C314.15,89.55 315.55,90.18 317,90.18C318.45,90.18 319.93,86.89 321.4,84.31C322.87,81.73 324.1,79.47 325.8,74.71C327.5,69.96 329.9,61.83 331.6,55.79C333.3,49.75 334.67,44.19 336,38.46C337.33,32.73 338.85,25.58 339.6,21.4C340.35,17.22 340.35,14.74 340.5,13.4" stroke="#2a72b0" stroke-width="1.3"/>
<path d="M303.5,13.4C303.57,14.74 303.1,15.54 303.9,21.4C304.7,27.26 306.83,41.39 308.3,48.59C309.77,55.79 311.25,61.43 312.7,64.58C314.15,67.74 315.55,66.54 317,67.52C318.45,68.49 320,69.34 321.4,70.45C322.8,71.56 323.7,76.8 325.4,74.18C327.1,71.56 329.83,60.85 331.6,54.72C333.37,48.59 334.67,43.39 336,37.39C337.33,31.4 339,21.84 339.6,18.73" stroke="#2a72b0" stroke-width="1.3"/>
<path d="M345,13.4C345.5,15.18 346.95,21.62 348,24.07C349.05,26.51 350.22,28.06 351.3,28.06C352.38,28.06 353.55,26.51 354.5,24.07C355.45,21.62 356.58,15.18 357,13.4" stroke="#2a72b0" stroke-width="1.3"/>
<path d="M357,18.73C357.83,20.07 360.33,24.07 362,26.73C363.67,29.4 365.5,32.28 367,34.73C368.5,37.17 369.33,39.35 371,41.39C372.67,43.44 376,46.06 377,46.99" stroke="#2a72b0" stroke-width="1.3"/>
<path d="M302,18.73C302.5,19.71 303.83,23.4 305,24.6C306.17,25.8 307.67,26.24 309,25.93C310.33,25.62 312,23.93 313,22.73C314,21.53 314.67,19.4 315,18.73" stroke="#2a72b0" stroke-width="1.3"/>
<path d="M229,126.16C230.92,127.85 237.47,133.27 240.5,136.29C243.53,139.31 244.97,142.38 247.2,144.29C249.43,146.2 251.43,146.82 253.9,147.75C256.37,148.69 259.75,149.31 262,149.89C264.25,150.47 265.38,151.93 267.4,151.22C269.42,150.51 271.87,147.8 274.1,145.62C276.33,143.45 278.23,139.94 280.8,138.16C283.37,136.38 286.27,135.94 289.5,134.96C292.73,133.98 297.62,132.74 300.2,132.29C302.78,131.85 303.2,132.03 305,132.29C306.8,132.56 309,133.18 311,133.89C313,134.6 315,135.76 317,136.56C319,137.36 322,138.34 323,138.69" stroke="#2a72b0" stroke-width="1.3"/>
<path d="M229,131.49C230.17,131.01 233.67,130.03 236,128.56C238.33,127.1 240.83,124.56 243,122.7C245.17,120.83 247.18,118.79 249,117.37C250.82,115.94 252.73,114.61 253.9,114.17C255.07,113.72 255.15,113.28 256,114.7C256.85,116.12 258,119.36 259,122.7C260,126.03 260.83,130.16 262,134.69C263.17,139.22 264.83,144.78 266,149.89C267.17,155 268,161.44 269,165.35C270,169.26 271.5,172.01 272,173.35" stroke="#2a72b0" stroke-width="1.3"/>
<path d="M229,140.29C230.33,139.22 234.5,136.38 237,133.89C239.5,131.41 241.83,127.58 244,125.36C246.17,123.14 248.35,121.54 250,120.56C251.65,119.59 252.73,119.01 253.9,119.5C255.07,119.99 255.82,120.74 257,123.5C258.18,126.25 259.67,131.49 261,136.03C262.33,140.56 263.83,145.8 265,150.69C266.17,155.57 267.5,162.91 268,165.35" stroke="#2a72b0" stroke-width="1.3"/>
<path d="M229,142.96C229.83,142.6 232,142.78 234,140.82C236,138.87 238.67,134.25 241,131.23C243.33,128.21 245.85,125.23 248,122.7C250.15,120.16 252.48,116.92 253.9,116.03C255.32,115.14 255.48,114.92 256.5,117.37C257.52,119.81 258.75,125.81 260,130.69C261.25,135.58 262.75,141.58 264,146.69C265.25,151.8 266.92,158.91 267.5,161.35" stroke="#2a72b0" stroke-width="1.3"/>
<path d="M229,146.42C229.5,146.82 230.98,148.15 232,148.82C233.02,149.49 233.93,151.44 235.1,150.42C236.27,149.4 237.35,145.98 239,142.69C240.65,139.4 243.17,134.03 245,130.69C246.83,127.36 248.52,124.47 250,122.7C251.48,120.92 253.25,120.48 253.9,120.03" stroke="#2a72b0" stroke-width="1.3"/>
<path d="M280.7,138.42C281.42,139.8 283.53,143.67 285,146.69C286.47,149.71 288.33,153.44 289.5,156.55C290.67,159.66 291.58,163.88 292,165.35" stroke="#2a72b0" stroke-width="1.3"/>
<path d="M285,195.2C285.25,192.01 285.75,181.5 286.5,176.01C287.25,170.52 288.42,167.39 289.5,162.26C290.58,157.13 291.75,150.73 293,145.24C294.25,139.74 295.83,133.38 297,129.31C298.17,125.25 299.13,122.62 300,120.84C300.87,119.06 301.53,118.87 302.2,118.65C302.87,118.43 303.2,118.35 304,119.51C304.8,120.66 305.83,123.1 307,125.58C308.17,128.05 309.67,131.18 311,134.36C312.33,137.54 313.67,141.19 315,144.66C316.33,148.14 317.67,152.13 319,155.22C320.33,158.31 322.33,161.88 323,163.22" stroke="#2a72b0" stroke-width="1.3"/>
<path d="M288,176.01C288.5,174.25 289.83,170.99 291,165.46C292.17,159.92 293.67,149.83 295,142.79C296.33,135.76 298,127.11 299,123.23C300,119.35 300.25,120.19 301,119.51C301.75,118.82 302.67,118.54 303.5,119.11C304.33,119.68 305.08,120.86 306,122.95C306.92,125.03 307.83,128.35 309,131.6C310.17,134.84 311.67,138.75 313,142.42C314.33,146.09 316.33,151.75 317,153.62" stroke="#2a72b0" stroke-width="1.3"/>
<path d="M305,140.82C305.5,139.22 307,133.76 308,131.23C309,128.7 309.6,126.87 311,125.63C312.4,124.39 314.62,123.76 316.4,123.76C318.18,123.76 320.08,124.49 321.7,125.63C323.32,126.77 324.68,128.59 326.1,130.59C327.52,132.59 328.32,135.33 330.2,137.63C332.08,139.92 335.1,143.01 337.4,144.34C339.7,145.68 341.9,145.25 344,145.62C346.1,146 348.4,146.16 350,146.58C351.6,147.01 352,147.17 353.6,148.18C355.2,149.19 357.85,150.15 359.6,152.66C361.35,155.17 362.6,159.91 364.1,163.22C365.6,166.52 367.1,170.68 368.6,172.49C370.1,174.31 371.62,174.41 373.1,174.09C374.58,173.77 376.77,171.16 377.5,170.57" stroke="#2a72b0" stroke-width="1.3"/>
<path d="M326.1,131.23C327.27,130.56 330.97,128.65 333.1,127.23C335.23,125.81 336.97,124.16 338.9,122.7C340.83,121.23 342.57,119.68 344.7,118.43C346.83,117.19 349.75,114.74 351.7,115.23C353.65,115.72 355.13,119.13 356.4,121.36C357.67,123.6 358.08,125.69 359.3,128.67C360.52,131.65 362,137.2 363.7,139.22C365.4,141.25 367.2,140.24 369.5,140.82C371.8,141.41 376.17,142.42 377.5,142.74" stroke="#2a72b0" stroke-width="1.3"/>
<path d="M326.1,134.43C327.27,133.63 330.97,131.14 333.1,129.63C335.23,128.12 336.97,126.87 338.9,125.36C340.83,123.85 342.57,121.9 344.7,120.56C346.83,119.23 349.75,116.88 351.7,117.37C353.65,117.85 355.13,121.08 356.4,123.5C357.67,125.91 358.08,128.71 359.3,131.87C360.52,135.02 362,140.4 363.7,142.42C365.4,144.45 367.2,143.65 369.5,144.02C371.8,144.4 376.17,144.56 377.5,144.66" stroke="#2a72b0" stroke-width="1.3"/>
<path d="M308,136.03C308.95,138 312.03,146.53 313.7,147.86C315.37,149.19 316.62,145.46 318,144.02C319.38,142.58 320.67,140.82 322,139.22C323.33,137.63 324.33,135.76 326,134.43C327.67,133.09 330,132.29 332,131.23C334,130.16 337,128.56 338,128.03" stroke="#2a72b0" stroke-width="1.3"/>
<path d="M229,171.21C230.67,171.08 236.08,170.06 239,170.41C241.92,170.77 244.5,171.57 246.5,173.35C248.5,175.12 249.62,178.28 251,181.08C252.38,183.88 252.8,188.27 254.8,190.14C256.8,192.01 260.87,192.54 263,192.27C265.13,192.01 266.1,190.67 267.6,188.54C269.1,186.41 270.5,182.01 272,179.48C273.5,176.94 275.18,174.5 276.6,173.35C278.02,172.19 278.68,172.19 280.5,172.55C282.32,172.9 285.05,174.46 287.5,175.48C289.95,176.5 292.62,177.48 295.2,178.68C297.78,179.88 300.53,181.7 303,182.68C305.47,183.65 307.83,183.08 310,184.54C312.17,186.01 313.5,189.78 316,191.47C318.5,193.16 322.5,192.81 325,194.67C327.5,196.54 329.5,200 331,202.67C332.5,205.33 333.5,209.33 334,210.67" stroke="#2a72b0" stroke-width="1.3"/>
<path d="M265,146.69C265.4,148.15 266.48,151.98 267.4,155.49C268.32,159 269.22,165.04 270.5,167.75C271.78,170.46 273.43,170.95 275.1,171.75C276.77,172.55 278.43,172.01 280.5,172.55C282.57,173.08 285.05,174.01 287.5,174.95C289.95,175.88 292.37,177.08 295.2,178.14C298.03,179.21 302.03,180.37 304.5,181.34C306.97,182.32 308.08,182.23 310,184.01C311.92,185.79 314.5,189.78 316,192.01C317.5,194.23 318.5,196.45 319,197.34" stroke="#2a72b0" stroke-width="1.3"/>
<path d="M229,192.01C230.17,192.45 233.67,192.89 236,194.67C238.33,196.45 240.83,200 243,202.67C245.17,205.33 248,209.33 249,210.67" stroke="#2a72b0" stroke-width="1.3"/>
<path d="M229,194.67C229.67,195.56 231.5,197.34 233,200C234.5,202.67 237.17,208.89 238,210.67" stroke="#2a72b0" stroke-width="1.3"/>
<path d="M229,198.67C229.5,199.56 231,202 232,204C233,206 234.5,209.55 235,210.67" stroke="#2a72b0" stroke-width="1.3"/>
<path d="M269,210.67C269.5,207.56 271,197.12 272,192.01C273,186.9 273.58,183.25 275,180.01C276.42,176.77 278.67,172.55 280.5,172.55C282.33,172.55 284.58,176.94 286,180.01C287.42,183.08 288,186.1 289,190.94C290,195.78 291.5,206.05 292,209.07" stroke="#2a72b0" stroke-width="1.3"/>
<path d="M280.5,172.55C281.08,172.01 282.58,170.32 284,169.35C285.42,168.37 287.17,166.99 289,166.68C290.83,166.37 293,166.73 295,167.48C297,168.24 298.5,170.72 301,171.21C303.5,171.7 307.25,170.41 310,170.41C312.75,170.41 315,169.97 317.5,171.21C320,172.46 322.25,175.21 325,177.88C327.75,180.54 330.48,185.3 334,187.21C337.52,189.12 342.83,188.85 346.1,189.34C349.37,189.83 351.1,189.38 353.6,190.14C356.1,190.9 358.6,193.87 361.1,193.87C363.6,193.87 365.95,190.27 368.6,190.14C371.25,190.01 375.6,192.58 377,193.07" stroke="#2a72b0" stroke-width="1.3"/>
<path d="M310,210.67C310.5,208.44 312,200.18 313,197.34C314,194.49 314,194.14 316,193.61C318,193.07 322.67,193.07 325,194.14C327.33,195.2 328.5,197.25 330,200C331.5,202.76 333.33,208.89 334,210.67" stroke="#2a72b0" stroke-width="1.3"/>
<path d="M313,210.67C313.67,209.11 315.17,202.89 317,201.34C318.83,199.78 322,199.78 324,201.34C326,202.89 328.17,209.11 329,210.67" stroke="#2a72b0" stroke-width="1.3"/>
<path d="M341.6,142.42C342.6,143.18 345.1,145.71 347.6,146.96C350.1,148.2 354.35,148.15 356.6,149.89C358.85,151.62 359.35,153.84 361.1,157.35C362.85,160.86 365.6,168.06 367.1,170.95C368.6,173.83 368.45,174.41 370.1,174.68C371.75,174.95 375.85,172.9 377,172.55" stroke="#2a72b0" stroke-width="1.3"/>
<path d="M357,144.02C357.67,145.8 359.67,150.69 361,154.69C362.33,158.68 363.67,164.46 365,168.01C366.33,171.57 367.5,173.35 369,176.01C370.5,178.68 372.67,182.23 374,184.01C375.33,185.79 376.5,186.23 377,186.67" stroke="#2a72b0" stroke-width="1.3"/>
<path d="M349,210.67C349.67,209.78 351.33,206 353,205.33C354.67,204.67 357,207.11 359,206.67C361,206.22 363,202.89 365,202.67C367,202.45 369,204.45 371,205.33C373,206.22 376,207.56 377,208" stroke="#2a72b0" stroke-width="1.3"/>
<path d="M283,141.36C283.48,143.71 284.9,151.49 285.9,155.49C286.9,159.48 288.48,163.7 289,165.35" stroke="#2a72b0" stroke-width="1.3"/>
<path d="M289,189.34C290,187.12 293.33,180.45 295,176.01C296.67,171.57 297.83,166.68 299,162.68C300.17,158.68 300.83,154.46 302,152.02C303.17,149.58 304,148.91 306,148.02C308,147.13 312.67,146.91 314,146.69" stroke="#2a72b0" stroke-width="1.3"/>
<path d="M229,150.69C229.83,151.13 232.33,153.13 234,153.35C235.67,153.58 237.17,152.69 239,152.02C240.83,151.35 243,150.02 245,149.35C247,148.69 250,148.24 251,148.02" stroke="#2a72b0" stroke-width="1.3"/>
</g>
<rect x="229" y="21.4" width="147.6" height="186.6" fill="none" stroke="#000" stroke-width="1.5"/>
<path d="M229,205.33h2.8M376.6,205.33h-2.8M229,200h2.8M376.6,200h-2.8M229,194.67h4.5M376.6,194.67h-4.5M229,189.34h2.8M376.6,189.34h-2.8M229,184.01h2.8M376.6,184.01h-2.8M229,178.68h2.8M376.6,178.68h-2.8M229,173.35h2.8M376.6,173.35h-2.8M229,168.01h4.5M376.6,168.01h-4.5M229,162.68h2.8M376.6,162.68h-2.8M229,157.35h2.8M376.6,157.35h-2.8M229,152.02h2.8M376.6,152.02h-2.8M229,146.69h2.8M376.6,146.69h-2.8M229,141.36h4.5M376.6,141.36h-4.5M229,136.03h2.8M376.6,136.03h-2.8M229,130.69h2.8M376.6,130.69h-2.8M229,125.36h2.8M376.6,125.36h-2.8M229,120.03h2.8M376.6,120.03h-2.8M229,114.7h4.5M376.6,114.7h-4.5M229,109.37h2.8M376.6,109.37h-2.8M229,104.04h2.8M376.6,104.04h-2.8M229,98.71h2.8M376.6,98.71h-2.8M229,93.37h2.8M376.6,93.37h-2.8M229,88.04h4.5M376.6,88.04h-4.5M229,82.71h2.8M376.6,82.71h-2.8M229,77.38h2.8M376.6,77.38h-2.8M229,72.05h2.8M376.6,72.05h-2.8M229,66.72h2.8M376.6,66.72h-2.8M229,61.39h4.5M376.6,61.39h-4.5M229,56.05h2.8M376.6,56.05h-2.8M229,50.72h2.8M376.6,50.72h-2.8M229,45.39h2.8M376.6,45.39h-2.8M229,40.06h2.8M376.6,40.06h-2.8M229,34.73h4.5M376.6,34.73h-4.5M229,29.4h2.8M376.6,29.4h-2.8M229,24.07h2.8M376.6,24.07h-2.8M235.8,21.4v3M235.8,208v-3M248.4,21.4v3M248.4,208v-3M261,21.4v3M261,208v-3M273.6,21.4v3M273.6,208v-3M286.2,21.4v3M286.2,208v-3M298.8,21.4v3M298.8,208v-3M311.4,21.4v3M311.4,208v-3M324,21.4v3M324,208v-3M336.6,21.4v3M336.6,208v-3M349.2,21.4v3M349.2,208v-3M361.8,21.4v3M361.8,208v-3M374.4,21.4v3M374.4,208v-3" stroke="#000" stroke-width="1.2" fill="none"/>
<text x="226.8" y="198.97" font-size="12" text-anchor="end" fill="#000" >−3</text>
<text x="226.8" y="172.31" font-size="12" text-anchor="end" fill="#000" >−2</text>
<text x="226.8" y="145.66" font-size="12" text-anchor="end" fill="#000" >−1</text>
<text x="226.8" y="119" font-size="12" text-anchor="end" fill="#000" >0</text>
<text x="226.8" y="92.34" font-size="12" text-anchor="end" fill="#000" >1</text>
<text x="226.8" y="65.69" font-size="12" text-anchor="end" fill="#000" >2</text>
<text x="226.8" y="39.03" font-size="12" text-anchor="end" fill="#000" >3</text>
<text x="229" y="219" font-size="12.8" text-anchor="middle" fill="#000" >Γ</text>
<text x="254.53" y="219" font-size="12.8" text-anchor="middle" fill="#000" >X</text>
<text x="280.66" y="219" font-size="12.8" text-anchor="middle" fill="#000" >M</text>
<text x="317.12" y="219" font-size="12.8" text-anchor="middle" fill="#000" >Γ</text>
<text x="325.24" y="219" font-size="12.8" text-anchor="middle" fill="#000" >Z</text>
<text x="350.92" y="219" font-size="12.8" text-anchor="middle" fill="#000" >R</text>
<text x="376.6" y="219" font-size="12.8" text-anchor="middle" fill="#000" >A</text>
<text x="277.4" y="11.2" font-size="15" text-anchor="start" fill="#000" >Bi<tspan font-size="9.5" dy="1.6">2</tspan><tspan dy="-1.6">O</tspan><tspan font-size="9.5" dy="1.6">2</tspan><tspan dy="-1.6">Se</tspan></text>
<text x="190.6" y="11.6" font-size="15.5" text-anchor="start" fill="#000" >(b)</text>
<text transform="translate(205.4,115.5) rotate(-90)" font-size="12.6" text-anchor="middle">Energy (eV)</text>
<clipPath id="clipc"><rect x="419.6" y="21.4" width="148.5" height="186.6"/></clipPath>
<line x1="445.29" y1="21.4" x2="445.29" y2="208" stroke="#999" stroke-width="1.2"/>
<line x1="471.58" y1="21.4" x2="471.58" y2="208" stroke="#999" stroke-width="1.2"/>
<line x1="508.25" y1="21.4" x2="508.25" y2="208" stroke="#999" stroke-width="1.2"/>
<line x1="516.42" y1="21.4" x2="516.42" y2="208" stroke="#999" stroke-width="1.2"/>
<line x1="542.26" y1="21.4" x2="542.26" y2="208" stroke="#999" stroke-width="1.2"/>
<line x1="419.6" y1="114.7" x2="568.1" y2="114.7" stroke="#6a6a6a" stroke-width="1.1" stroke-dasharray="1.3,1.0"/>
<g clip-path="url(#clipc)" fill="none">
<path d="M420.5,113.9C421.2,110.88 422.87,102.53 424.7,95.77C426.53,89.02 429.62,80.49 431.5,73.38C433.38,66.27 434.5,58.36 436,53.12C437.5,47.88 439.25,45.44 440.5,41.93C441.75,38.42 442.67,36.82 443.5,32.06C444.33,27.31 445.17,16.51 445.5,13.4" stroke="#9c1eb2" stroke-width="1.75" stroke-dasharray="1.45,1.4"/>
<path d="M420.5,88.04C421.17,85.38 423,77.82 424.5,72.05C426,66.27 427.97,57.3 429.5,53.39C431.03,49.48 431.87,49.75 433.7,48.59C435.53,47.44 438.62,46.06 440.5,46.46C442.38,46.86 443.13,48.77 445,50.99C446.87,53.21 449.53,57.16 451.7,59.79C453.87,62.41 456.57,65.65 458,66.72C459.43,67.78 459.55,67.07 460.3,66.18C461.05,65.3 462.13,62.19 462.5,61.39" stroke="#9c1eb2" stroke-width="1.75" stroke-dasharray="1.45,1.4"/>
<path d="M455.5,13.4C455.75,19.18 456.35,39.26 457,48.06C457.65,56.85 458.28,59.25 459.4,66.18C460.52,73.11 462.35,82.89 463.7,89.64C465.05,96.4 466.28,102.7 467.5,106.7C468.72,110.7 469.68,114.08 471,113.63C472.32,113.19 473.93,108.04 475.4,104.04C476.87,100.04 478.35,94.49 479.8,89.64C481.25,84.8 482.65,79.87 484.1,74.98C485.55,70.09 487.43,65.25 488.5,60.32C489.57,55.39 489.83,53.21 490.5,45.39C491.17,37.57 492.17,18.73 492.5,13.4" stroke="#9c1eb2" stroke-width="1.75" stroke-dasharray="1.45,1.4"/>
<path d="M481.5,13.4C481.83,21.4 482.57,47.21 483.5,61.39C484.43,75.56 485.78,96.17 487.1,98.44C488.42,100.7 490.33,81.33 491.4,74.98C492.47,68.63 492.82,66.14 493.5,60.32C494.18,54.5 495,47.88 495.5,40.06C496,32.24 496.33,17.85 496.5,13.4" stroke="#9c1eb2" stroke-width="1.75" stroke-dasharray="1.45,1.4"/>
<path d="M493.5,13.4C493.88,21.22 494.2,46.15 495.8,60.32C497.4,74.49 501.1,89.06 503.1,98.44C505.1,107.81 506.1,115.63 507.8,116.57C509.5,117.5 511.42,108.52 513.3,104.04C515.18,99.55 516.92,95.68 519.1,89.64C521.28,83.6 524.5,74.71 526.4,67.78C528.3,60.85 529.48,53.57 530.5,48.06C531.52,42.55 531.83,40.5 532.5,34.73C533.17,28.95 534.17,16.96 534.5,13.4" stroke="#9c1eb2" stroke-width="1.75" stroke-dasharray="1.45,1.4"/>
<path d="M515.5,86.71C516.13,85.11 517.77,81.11 519.3,77.11C520.83,73.11 522.88,67.25 524.7,62.72C526.52,58.19 528.53,52.81 530.2,49.92C531.87,47.04 533.4,45.35 534.7,45.39C536,45.44 536.78,49.17 538,50.19C539.22,51.21 540.88,51.97 542,51.52C543.12,51.08 543.57,47.3 544.7,47.52C545.83,47.75 547.23,50.41 548.8,52.86C550.37,55.3 552.32,59.03 554.1,62.19C555.88,65.34 557.48,68.41 559.5,71.78C561.52,75.16 564.7,80.4 566.2,82.44C567.7,84.49 568.12,83.78 568.5,84.04" stroke="#9c1eb2" stroke-width="1.75" stroke-dasharray="1.45,1.4"/>
<path d="M537.5,13.4C537.83,15.18 538.67,20.51 539.5,24.07C540.33,27.62 541.4,31.17 542.5,34.73C543.6,38.28 544.6,41.93 546.1,45.39C547.6,48.86 549.72,52.23 551.5,55.52C553.28,58.81 555.02,62.19 556.8,65.12C558.58,68.05 560.25,70.63 562.2,73.11C564.15,75.6 567.45,78.89 568.5,80.05" stroke="#9c1eb2" stroke-width="1.75" stroke-dasharray="1.45,1.4"/>
<path d="M512.5,13.4C513,17.4 514.05,33.48 515.5,37.39C516.95,41.3 519.37,37.31 521.2,36.86C523.03,36.42 524.57,35.71 526.5,34.73C528.43,33.75 531.13,32.77 532.8,31C534.47,29.22 535.88,25.22 536.5,24.07" stroke="#9c1eb2" stroke-width="1.75" stroke-dasharray="1.45,1.4"/>
<path d="M548.5,13.4C548.83,14.74 549.57,18.42 550.5,21.4C551.43,24.38 552.6,28.02 554.1,31.26C555.6,34.51 557.7,37.93 559.5,40.86C561.3,43.79 563.4,47.21 564.9,48.86C566.4,50.5 567.9,50.41 568.5,50.72" stroke="#9c1eb2" stroke-width="1.75" stroke-dasharray="1.45,1.4"/>
<path d="M454.5,13.4C454.87,15.36 455.48,21.22 456.7,25.13C457.92,29.04 459.98,33.93 461.8,36.86C463.62,39.79 465.65,41.75 467.6,42.73C469.55,43.7 471.07,42.73 473.5,42.73C475.93,42.73 479.78,43.21 482.2,42.73C484.62,42.24 486.62,41.13 488,39.79C489.38,38.46 490.08,35.57 490.5,34.73" stroke="#9c1eb2" stroke-width="1.75" stroke-dasharray="1.45,1.4"/>
<path d="M458.5,72.05C459.05,70.32 460.47,64.54 461.8,61.65C463.13,58.76 465.05,56.68 466.5,54.72C467.95,52.77 469.33,51.03 470.5,49.92C471.67,48.81 473,48.37 473.5,48.06" stroke="#9c1eb2" stroke-width="1.75" stroke-dasharray="1.45,1.4"/>
<path d="M420.5,26.73C421.17,26.07 423.17,22.73 424.5,22.73C425.83,22.73 427.17,26.95 428.5,26.73C429.83,26.51 431.83,22.29 432.5,21.4" stroke="#9c1eb2" stroke-width="1.75" stroke-dasharray="1.45,1.4"/>
<path d="M420.5,22.73C421.17,23.84 423.17,27.18 424.5,29.4C425.83,31.62 427.12,34.28 428.5,36.06C429.88,37.84 431.47,39.17 432.8,40.06C434.13,40.95 435.88,41.17 436.5,41.39" stroke="#9c1eb2" stroke-width="1.75" stroke-dasharray="1.45,1.4"/>
<path d="M420.5,133.89C421.33,133.72 423.83,133.27 425.5,132.83C427.17,132.38 429.67,131.49 430.5,131.23" stroke="#9c1eb2" stroke-width="1.75" stroke-dasharray="1.45,1.4"/>
<path d="M426.5,148.02C428.03,146.91 432.73,142.96 435.7,141.36C438.67,139.76 441.95,137.98 444.3,138.42C446.65,138.87 448.27,141.76 449.8,144.02C451.33,146.29 452.45,149.8 453.5,152.02C454.55,154.24 455.27,155.13 456.1,157.35C456.93,159.57 458.1,164.02 458.5,165.35" stroke="#9c1eb2" stroke-width="1.75" stroke-dasharray="1.45,1.4"/>
<path d="M430.5,156.02C431.37,156.24 433.27,156.91 435.7,157.35C438.13,157.8 441.7,158.02 445.1,158.68C448.5,159.35 452.7,162.02 456.1,161.35C459.5,160.68 463.02,156.95 465.5,154.69C467.98,152.42 468.47,149.44 471,147.75C473.53,146.07 477.77,145.36 480.7,144.56C483.63,143.76 485.72,143.49 488.6,142.96C491.48,142.42 495.68,142.29 498,141.36C500.32,140.42 500.88,138.25 502.5,137.36C504.12,136.47 506.03,135.58 507.7,136.03C509.37,136.47 510.97,138.96 512.5,140.02C514.03,141.09 514.12,142.2 516.9,142.42C519.68,142.65 525.1,141.89 529.2,141.36C533.3,140.82 538.28,139 541.5,139.22C544.72,139.45 546.25,141 548.5,142.69C550.75,144.38 553,148.11 555,149.35C557,150.6 558.25,149.89 560.5,150.15C562.75,150.42 567.17,150.82 568.5,150.95" stroke="#9c1eb2" stroke-width="1.75" stroke-dasharray="1.45,1.4"/>
<path d="M420.5,177.08C422.08,177.3 427.17,177.17 430,178.41C432.83,179.65 435.25,182.01 437.5,184.54C439.75,187.07 442.17,191.34 443.5,193.61C444.83,195.87 443.5,197.29 445.5,198.14C447.5,198.98 452.83,199.69 455.5,198.67C458.17,197.65 459.5,194.89 461.5,192.01C463.5,189.12 465.87,183.61 467.5,181.34C469.13,179.08 469.63,178.63 471.3,178.41C472.97,178.19 475.47,179.08 477.5,180.01C479.53,180.94 482,183.79 483.5,184.01C485,184.23 485.42,182.1 486.5,181.34C487.58,180.59 488.33,180.23 490,179.48C491.67,178.72 494.25,177.39 496.5,176.81C498.75,176.23 501.33,175.79 503.5,176.01C505.67,176.23 507.27,177.21 509.5,178.14C511.73,179.08 514.57,180.28 516.9,181.61C519.23,182.94 521.27,184.63 523.5,186.14C525.73,187.65 528.13,189.47 530.3,190.67C532.47,191.87 534.25,192.58 536.5,193.34C538.75,194.09 540.72,194.54 543.8,195.2C546.88,195.87 552.22,197.43 555,197.34C557.78,197.25 558.25,195.56 560.5,194.67C562.75,193.78 567.17,192.45 568.5,192.01" stroke="#9c1eb2" stroke-width="1.75" stroke-dasharray="1.45,1.4"/>
<path d="M420.5,192.01C421.33,192.45 423.67,193.34 425.5,194.67C427.33,196 429.67,197.34 431.5,200C433.33,202.67 435.67,208.89 436.5,210.67" stroke="#9c1eb2" stroke-width="1.75" stroke-dasharray="1.45,1.4"/>
<path d="M420.5,200C421.17,200.89 423.17,203.56 424.5,205.33C425.83,207.11 427.83,209.78 428.5,210.67" stroke="#9c1eb2" stroke-width="1.75" stroke-dasharray="1.45,1.4"/>
<path d="M510.5,156.02C511.57,155.44 514.4,153.13 516.9,152.55C519.4,151.98 522.73,152.42 525.5,152.55C528.27,152.69 530.83,153 533.5,153.35C536.17,153.71 539,153.8 541.5,154.69C544,155.57 546.25,157.17 548.5,158.68C550.75,160.19 553.5,161.31 555,163.75C556.5,166.19 556.75,170.19 557.5,173.35C558.25,176.5 558.5,181.34 559.5,182.68C560.5,184.01 562,182.28 563.5,181.34C565,180.41 567.67,177.79 568.5,177.08" stroke="#9c1eb2" stroke-width="1.75" stroke-dasharray="1.45,1.4"/>
<path d="M495.5,210.67C496.33,208.44 498.5,200 500.5,197.34C502.5,194.67 505.33,194.23 507.5,194.67C509.67,195.12 511.67,197.34 513.5,200C515.33,202.67 517.67,208.89 518.5,210.67" stroke="#9c1eb2" stroke-width="1.75" stroke-dasharray="1.45,1.4"/>
<path d="M458.5,160.02C459.5,162.68 462.5,170.24 464.5,176.01C466.5,181.79 469,188.9 470.5,194.67C472,200.45 473,208 473.5,210.67" stroke="#9c1eb2" stroke-width="1.75" stroke-dasharray="1.45,1.4"/>
<path d="M420.5,141.36C421,141.8 422.5,142.69 423.5,144.02C424.5,145.36 425.33,147.13 426.5,149.35C427.67,151.58 429.83,156.02 430.5,157.35" stroke="#9c1eb2" stroke-width="1.75" stroke-dasharray="1.45,1.4"/>
<path d="M420.5,104.84C421.2,101.82 423.25,93.46 424.7,86.71C426.15,79.96 427.7,71.78 429.2,64.32C430.7,56.85 432.38,48.68 433.7,41.93C435.02,35.17 436.38,28.55 437.1,23.8C437.82,19.05 437.85,15.14 438,13.4" stroke="#2a9a2a" stroke-width="1.3"/>
<path d="M420.5,84.58C421.58,81.2 424.98,71.43 427,64.32C429.02,57.21 431.18,48.19 432.6,41.93C434.02,35.66 434.85,31.49 435.5,26.73C436.15,21.98 436.33,15.62 436.5,13.4" stroke="#2a9a2a" stroke-width="1.3"/>
<path d="M420.5,44.06C421.2,42.95 422.87,39.26 424.7,37.39C426.53,35.53 429.87,34.64 431.5,32.86C433.13,31.09 433.83,29.97 434.5,26.73C435.17,23.49 435.33,15.62 435.5,13.4" stroke="#2a9a2a" stroke-width="1.3"/>
<path d="M434.5,13.4C434.93,15.05 435.47,19.09 437.1,23.27C438.73,27.44 441.88,34.51 444.3,38.46C446.72,42.41 449.42,44.68 451.6,46.99C453.78,49.3 455.47,52.32 457.4,52.32C459.33,52.32 461.25,49.57 463.2,46.99C465.15,44.41 467.38,39.04 469.1,36.86C470.82,34.68 471.8,33.93 473.5,33.93C475.2,33.93 477.37,35.62 479.3,36.86C481.23,38.11 483.4,41.08 485.1,41.39C486.8,41.7 488.1,40.73 489.5,38.73C490.9,36.73 492.5,32.73 493.5,29.4C494.5,26.06 495.17,20.51 495.5,18.73" stroke="#2a9a2a" stroke-width="1.3"/>
<path d="M452,13.4C452.75,17.85 455.03,32.51 456.5,40.06C457.97,47.61 459.35,51.66 460.8,58.72C462.25,65.78 463.92,76.22 465.2,82.44C466.48,88.66 467.53,92.8 468.5,96.04C469.47,99.28 470.17,101.68 471,101.9C471.83,102.13 472.52,99.42 473.5,97.37C474.48,95.33 475.62,94.35 476.9,89.64C478.18,84.93 480,74.71 481.2,69.12C482.4,63.52 483.22,60.67 484.1,56.05C484.98,51.43 485.85,48.5 486.5,41.39C487.15,34.28 487.75,18.07 488,13.4" stroke="#2a9a2a" stroke-width="1.3"/>
<path d="M477.5,13.4C478,21.22 479.33,49.66 480.5,60.32C481.67,70.98 483.28,73.2 484.5,77.38C485.72,81.56 486.8,85.82 487.8,85.38C488.8,84.93 489.53,78.89 490.5,74.71C491.47,70.54 492.77,65.21 493.6,60.32C494.43,55.43 494.85,53.21 495.5,45.39C496.15,37.57 497.17,18.73 497.5,13.4" stroke="#2a9a2a" stroke-width="1.3"/>
<path d="M491.5,13.4C492.07,16.82 493.82,27.26 494.9,33.93C495.98,40.59 497.03,47.92 498,53.39C498.97,58.85 499.78,61.39 500.7,66.72C501.62,72.05 502.32,79.16 503.5,85.38C504.68,91.6 506.42,101.37 507.8,104.04C509.18,106.7 510.4,103.28 511.8,101.37C513.2,99.46 514.73,95.73 516.2,92.57C517.67,89.42 518.9,87.82 520.6,82.44C522.3,77.07 524.85,67.43 526.4,60.32C527.95,53.21 528.58,46.06 529.9,39.79C531.22,33.53 533.45,27.13 534.3,22.73C535.15,18.33 534.88,14.96 535,13.4" stroke="#2a9a2a" stroke-width="1.3"/>
<path d="M499.5,13.4C499.85,21.22 500.77,49.35 501.6,60.32C502.43,71.29 503.28,75.56 504.5,79.25C505.72,82.93 507.43,81.2 508.9,82.44C510.37,83.69 512.08,85.02 513.3,86.71C514.52,88.4 515.72,91.6 516.2,92.57" stroke="#2a9a2a" stroke-width="1.3"/>
<path d="M494.5,13.4C495,16.51 496.47,27.89 497.5,32.06C498.53,36.24 499.53,36.91 500.7,38.46C501.87,40.02 503.28,40.82 504.5,41.39C505.72,41.97 506.68,43.66 508,41.93C509.32,40.19 511.18,34.02 512.4,31C513.62,27.98 513.83,22.07 515.3,23.8C516.77,25.53 519.5,37.04 521.2,41.39C522.9,45.75 524.05,50.19 525.5,49.92C526.95,49.66 528.43,43.44 529.9,39.79C531.37,36.15 532.83,29.26 534.3,28.06C535.77,26.86 537.37,31.62 538.7,32.6C540.03,33.57 540.97,34.33 542.3,33.93C543.63,33.53 545.37,29.22 546.7,30.2C548.03,31.17 548.72,35.75 550.3,39.79C551.88,43.84 554.25,50.55 556.2,54.45C558.15,58.36 560.3,60.59 562,63.25C563.7,65.92 565.32,68.98 566.4,70.45C567.48,71.92 568.15,71.78 568.5,72.05" stroke="#2a9a2a" stroke-width="1.3"/>
<path d="M532.5,13.4C533,15.85 534.47,24.95 535.5,28.06C536.53,31.17 537.57,31.62 538.7,32.06C539.83,32.51 541.17,31.62 542.3,30.73C543.43,29.84 544.63,29.62 545.5,26.73C546.37,23.84 547.17,15.62 547.5,13.4" stroke="#2a9a2a" stroke-width="1.3"/>
<path d="M555.5,13.4C556.58,16.11 560.18,26.46 562,29.66C563.82,32.86 565.32,31.97 566.4,32.6C567.48,33.22 568.15,33.26 568.5,33.4" stroke="#2a9a2a" stroke-width="1.3"/>
<path d="M540.5,24.07C541.17,25.18 543.08,28.06 544.5,30.73C545.92,33.4 547.5,36.95 549,40.06C550.5,43.17 551.92,46.28 553.5,49.39C555.08,52.5 556.92,56.05 558.5,58.72C560.08,61.39 561.33,63.25 563,65.38C564.67,67.52 567.58,70.49 568.5,71.52" stroke="#2a9a2a" stroke-width="1.3"/>
<path d="M464.5,18.73C464.77,19.4 464.12,21.89 466.1,22.73C468.08,23.58 473.23,22.87 476.4,23.8C479.57,24.73 482.17,26.86 485.1,28.33C488.03,29.8 492.1,32.42 494,32.6C495.9,32.77 496.08,29.93 496.5,29.4" stroke="#2a9a2a" stroke-width="1.3"/>
<path d="M420.5,49.39C421.08,50.5 423,55.3 424,56.05C425,56.81 425.48,55.92 426.5,53.92C427.52,51.92 428.83,48.59 430.1,44.06C431.37,39.53 433.2,31.84 434.1,26.73C435,21.62 435.27,15.62 435.5,13.4" stroke="#2a9a2a" stroke-width="1.3"/>
<path d="M423.5,18.73C424,20.07 425.33,23.84 426.5,26.73C427.67,29.62 429.17,34.06 430.5,36.06C431.83,38.06 433.17,38.5 434.5,38.73C435.83,38.95 437.83,37.62 438.5,37.39" stroke="#2a9a2a" stroke-width="1.3"/>
<path d="M436.5,21.4C437.17,21.76 439.1,23.04 440.5,23.53C441.9,24.02 443.57,24.47 444.9,24.33C446.23,24.2 447.23,23.67 448.5,22.73C449.77,21.8 451.83,19.4 452.5,18.73" stroke="#2a9a2a" stroke-width="1.3"/>
<path d="M420.5,134.96C421.73,134.03 425.37,131.54 427.9,129.36C430.43,127.18 433.6,123.9 435.7,121.9C437.8,119.9 438.93,118.61 440.5,117.37C442.07,116.12 444.02,114.66 445.1,114.43C446.18,114.21 446.22,114.17 447,116.03C447.78,117.9 448.67,120.88 449.8,125.63C450.93,130.38 452.48,137.98 453.8,144.56C455.12,151.13 456.67,159.4 457.7,165.08C458.73,170.77 459.62,176.41 460,178.68" stroke="#2a9a2a" stroke-width="1.3"/>
<path d="M420.5,138.16C421.73,137.71 425.37,137.54 427.9,135.49C430.43,133.45 433.6,128.69 435.7,125.9C437.8,123.1 438.93,120.56 440.5,118.7C442.07,116.83 443.97,115.01 445.1,114.7C446.23,114.39 446.48,114.83 447.3,116.83C448.12,118.83 448.88,121.94 450,126.7C451.12,131.45 452.68,138.82 454,145.36C455.32,151.89 456.87,160.11 457.9,165.88C458.93,171.66 459.82,177.66 460.2,180.01" stroke="#2a9a2a" stroke-width="1.3"/>
<path d="M420.5,142.69C422,142.82 426.97,143.8 429.5,143.49C432.03,143.18 433.1,141.45 435.7,140.82C438.3,140.2 442.75,139.22 445.1,139.76C447.45,140.29 448.35,141.76 449.8,144.02C451.25,146.29 452.6,150.02 453.8,153.35C455,156.69 456.05,160.24 457,164.02C457.95,167.79 459.08,174.01 459.5,176.01" stroke="#2a9a2a" stroke-width="1.3"/>
<path d="M420.5,156.02C420.92,156.69 422.07,158.77 423,160.02C423.93,161.26 425.18,163.26 426.1,163.48C427.02,163.7 427.6,162.37 428.5,161.35C429.4,160.33 430.33,159.26 431.5,157.35C432.67,155.44 434.17,152.02 435.5,149.89C436.83,147.75 437.9,145.98 439.5,144.56C441.1,143.13 444.17,141.89 445.1,141.36" stroke="#2a9a2a" stroke-width="1.3"/>
<path d="M420.5,140.02C421.73,141.58 425.37,146.91 427.9,149.35C430.43,151.8 432.83,153.35 435.7,154.69C438.57,156.02 441.7,156.02 445.1,157.35C448.5,158.68 452.43,163.79 456.1,162.68C459.77,161.57 464.62,153.18 467.1,150.69C469.58,148.2 468.85,148.64 471,147.75C473.15,146.87 477.07,146.02 480,145.36C482.93,144.69 486.18,143.53 488.6,143.76C491.02,143.98 492.52,145.09 494.5,146.69C496.48,148.29 498.27,150.86 500.5,153.35C502.73,155.84 506.67,160.24 507.9,161.62" stroke="#2a9a2a" stroke-width="1.3"/>
<path d="M471.3,147.75C472.08,149.84 474.43,156.06 476,160.28C477.57,164.5 479.62,169.57 480.7,173.08C481.78,176.59 482.2,179.97 482.5,181.34" stroke="#2a9a2a" stroke-width="1.3"/>
<path d="M480.7,173.08C481.17,170.9 482.45,164.77 483.5,160.02C484.55,155.26 486.02,149.09 487,144.56C487.98,140.02 488.35,134.65 489.4,132.83C490.45,131.01 491.7,132.56 493.3,133.63C494.9,134.69 497.3,138.38 499,139.22C500.7,140.07 502.02,138.91 503.5,138.69C504.98,138.47 506.4,137.54 507.9,137.89C509.4,138.25 511,140.07 512.5,140.82C514,141.58 515.23,143.22 516.9,142.42C518.57,141.62 520.57,138.42 522.5,136.03C524.43,133.63 526.3,130.78 528.5,128.03C530.7,125.27 533.47,121.72 535.7,119.5C537.93,117.28 540.2,114.21 541.9,114.7C543.6,115.19 544.5,118.25 545.9,122.43C547.3,126.61 548.78,135.14 550.3,139.76C551.82,144.38 553.3,148.29 555,150.15C556.7,152.02 558.25,150.73 560.5,150.95C562.75,151.18 567.17,151.4 568.5,151.49" stroke="#2a9a2a" stroke-width="1.3"/>
<path d="M482.5,181.34C483,176.9 484.67,161.57 485.5,154.69C486.33,147.8 486.75,143.36 487.5,140.02C488.25,136.69 488.83,134.47 490,134.69C491.17,134.91 493,139.14 494.5,141.36C496,143.58 497.5,145.58 499,148.02C500.5,150.47 502.02,153.75 503.5,156.02C504.98,158.28 506.4,161.62 507.9,161.62C509.4,161.62 511,157.35 512.5,156.02C514,154.69 514.67,154.37 516.9,153.62C519.13,152.86 523.13,151.53 525.9,151.49C528.67,151.44 530.9,152.42 533.5,153.35C536.1,154.29 539,155.53 541.5,157.08C544,158.64 546.25,160.82 548.5,162.68C550.75,164.55 553.5,165.62 555,168.28C556.5,170.95 556.75,175.34 557.5,178.68C558.25,182.01 558.5,186.05 559.5,188.27C560.5,190.5 562,191.25 563.5,192.01C565,192.76 567.67,192.67 568.5,192.81" stroke="#2a9a2a" stroke-width="1.3"/>
<path d="M448.5,141.36C449.42,144.02 452.58,152.15 454,157.35C455.42,162.55 455.48,168.01 457,172.55C458.52,177.08 460.72,182.05 463.1,184.54C465.48,187.03 468.8,187.74 471.3,187.47C473.8,187.21 475.73,185.43 478.1,182.94C480.47,180.45 482.85,176.28 485.5,172.55C488.15,168.81 491.5,163.08 494,160.55C496.5,158.02 498.75,158.33 500.5,157.35C502.25,156.37 503.83,155.13 504.5,154.69" stroke="#2a9a2a" stroke-width="1.3"/>
<path d="M420.5,187.47C422.08,187.74 427.17,188.05 430,189.07C432.83,190.1 434.92,190.85 437.5,193.61C440.08,196.36 443.67,202.76 445.5,205.6C447.33,208.44 448,209.82 448.5,210.67" stroke="#2a9a2a" stroke-width="1.3"/>
<path d="M456.5,168.01C457.33,171.75 459.03,186.54 461.5,190.41C463.97,194.27 468.63,190.72 471.3,191.21C473.97,191.69 475.63,191.87 477.5,193.34C479.37,194.8 481,197.12 482.5,200C484,202.89 485.83,208.89 486.5,210.67" stroke="#2a9a2a" stroke-width="1.3"/>
<path d="M464.5,210.67C465,208.44 466.37,200.22 467.5,197.34C468.63,194.45 470.13,193.34 471.3,193.34C472.47,193.34 473.47,194.45 474.5,197.34C475.53,200.22 477,208.44 477.5,210.67" stroke="#2a9a2a" stroke-width="1.3"/>
<path d="M475.5,210.67C476.33,208 478.67,200 480.5,194.67C482.33,189.34 484.67,184.01 486.5,178.68C488.33,173.35 490,167.13 491.5,162.68C493,158.24 494,154.46 495.5,152.02C497,149.58 499.67,148.69 500.5,148.02" stroke="#2a9a2a" stroke-width="1.3"/>
<path d="M516.9,145.89C518.95,145.49 525.1,144.42 529.2,143.49C533.3,142.56 538.28,140.2 541.5,140.29C544.72,140.38 546.25,142.16 548.5,144.02C550.75,145.89 553,150.15 555,151.49C557,152.82 558.25,151.84 560.5,152.02C562.75,152.2 567.17,152.46 568.5,152.55" stroke="#2a9a2a" stroke-width="1.3"/>
<path d="M492,193.61C493.5,192.85 498.37,189.83 501,189.07C503.63,188.32 505.55,188.58 507.8,189.07C510.05,189.56 512.38,190.18 514.5,192.01C516.62,193.83 518.83,196.89 520.5,200C522.17,203.11 523.83,208.89 524.5,210.67" stroke="#2a9a2a" stroke-width="1.3"/>
<path d="M554.5,157.35C554.83,160.02 555.83,168.46 556.5,173.35C557.17,178.23 557.67,183.34 558.5,186.67C559.33,190.01 559.83,192.09 561.5,193.34C563.17,194.58 567.33,194.01 568.5,194.14" stroke="#2a9a2a" stroke-width="1.3"/>
<path d="M558.5,210.67C559.17,209.55 560.83,204.67 562.5,204C564.17,203.33 567.5,206.22 568.5,206.67" stroke="#2a9a2a" stroke-width="1.3"/>
<path d="M420.5,192.01C421.17,193.34 423.17,196.89 424.5,200C425.83,203.11 427.83,208.89 428.5,210.67" stroke="#2a9a2a" stroke-width="1.3"/>
</g>
<rect x="419.6" y="21.4" width="148.5" height="186.6" fill="none" stroke="#000" stroke-width="1.5"/>
<path d="M419.6,205.33h2.8M568.1,205.33h-2.8M419.6,200h2.8M568.1,200h-2.8M419.6,194.67h4.5M568.1,194.67h-4.5M419.6,189.34h2.8M568.1,189.34h-2.8M419.6,184.01h2.8M568.1,184.01h-2.8M419.6,178.68h2.8M568.1,178.68h-2.8M419.6,173.35h2.8M568.1,173.35h-2.8M419.6,168.01h4.5M568.1,168.01h-4.5M419.6,162.68h2.8M568.1,162.68h-2.8M419.6,157.35h2.8M568.1,157.35h-2.8M419.6,152.02h2.8M568.1,152.02h-2.8M419.6,146.69h2.8M568.1,146.69h-2.8M419.6,141.36h4.5M568.1,141.36h-4.5M419.6,136.03h2.8M568.1,136.03h-2.8M419.6,130.69h2.8M568.1,130.69h-2.8M419.6,125.36h2.8M568.1,125.36h-2.8M419.6,120.03h2.8M568.1,120.03h-2.8M419.6,114.7h4.5M568.1,114.7h-4.5M419.6,109.37h2.8M568.1,109.37h-2.8M419.6,104.04h2.8M568.1,104.04h-2.8M419.6,98.71h2.8M568.1,98.71h-2.8M419.6,93.37h2.8M568.1,93.37h-2.8M419.6,88.04h4.5M568.1,88.04h-4.5M419.6,82.71h2.8M568.1,82.71h-2.8M419.6,77.38h2.8M568.1,77.38h-2.8M419.6,72.05h2.8M568.1,72.05h-2.8M419.6,66.72h2.8M568.1,66.72h-2.8M419.6,61.39h4.5M568.1,61.39h-4.5M419.6,56.05h2.8M568.1,56.05h-2.8M419.6,50.72h2.8M568.1,50.72h-2.8M419.6,45.39h2.8M568.1,45.39h-2.8M419.6,40.06h2.8M568.1,40.06h-2.8M419.6,34.73h4.5M568.1,34.73h-4.5M419.6,29.4h2.8M568.1,29.4h-2.8M419.6,24.07h2.8M568.1,24.07h-2.8M426.4,21.4v3M426.4,208v-3M439,21.4v3M439,208v-3M451.6,21.4v3M451.6,208v-3M464.2,21.4v3M464.2,208v-3M476.8,21.4v3M476.8,208v-3M489.4,21.4v3M489.4,208v-3M502,21.4v3M502,208v-3M514.6,21.4v3M514.6,208v-3M527.2,21.4v3M527.2,208v-3M539.8,21.4v3M539.8,208v-3M552.4,21.4v3M552.4,208v-3M565,21.4v3M565,208v-3" stroke="#000" stroke-width="1.2" fill="none"/>
<text x="417.4" y="198.97" font-size="12" text-anchor="end" fill="#000" >−3</text>
<text x="417.4" y="172.31" font-size="12" text-anchor="end" fill="#000" >−2</text>
<text x="417.4" y="145.66" font-size="12" text-anchor="end" fill="#000" >−1</text>
<text x="417.4" y="119" font-size="12" text-anchor="end" fill="#000" >0</text>
<text x="417.4" y="92.34" font-size="12" text-anchor="end" fill="#000" >1</text>
<text x="417.4" y="65.69" font-size="12" text-anchor="end" fill="#000" >2</text>
<text x="417.4" y="39.03" font-size="12" text-anchor="end" fill="#000" >3</text>
<text x="419.6" y="219" font-size="12.8" text-anchor="middle" fill="#000" >Γ</text>
<text x="445.29" y="219" font-size="12.8" text-anchor="middle" fill="#000" >X</text>
<text x="471.58" y="219" font-size="12.8" text-anchor="middle" fill="#000" >M</text>
<text x="508.25" y="219" font-size="12.8" text-anchor="middle" fill="#000" >Γ</text>
<text x="516.42" y="219" font-size="12.8" text-anchor="middle" fill="#000" >Z</text>
<text x="542.26" y="219" font-size="12.8" text-anchor="middle" fill="#000" >R</text>
<text x="568.1" y="219" font-size="12.8" text-anchor="middle" fill="#000" >A</text>
<text x="474.9" y="11.2" font-size="15" text-anchor="start" fill="#000" >Bi<tspan font-size="9.5" dy="1.6">2</tspan><tspan dy="-1.6">O</tspan><tspan font-size="9.5" dy="1.6">2</tspan><tspan dy="-1.6">Te</tspan></text>
<text x="380.6" y="11.6" font-size="15.5" text-anchor="start" fill="#000" >(c)</text>
<text transform="translate(396,115.5) rotate(-90)" font-size="12.6" text-anchor="middle">Energy (eV)</text>
<clipPath id="clipd"><rect x="37.6" y="249.4" width="148.8" height="163.2"/></clipPath>
<g clip-path="url(#clipd)" fill="none">
<path d="M37.6,342.97C41,342.33 52.69,340.43 58.01,339.16C63.32,337.89 66.79,336.35 69.49,335.35C72.18,334.35 72.46,334.08 74.16,333.18C75.86,332.27 77.92,331.73 79.69,329.91C81.46,328.1 83.02,324.74 84.79,322.3C86.56,319.85 88.9,316.58 90.32,315.22C91.73,313.86 92.09,313.95 93.29,314.14C94.5,314.32 95.99,315.27 97.55,316.31C99.1,317.35 101.12,319.21 102.65,320.39C104.17,321.57 105.52,322.25 106.69,323.38C107.85,324.52 108.49,324.47 109.66,327.19C110.83,329.91 112.35,336.17 113.7,339.7C115.05,343.24 116.39,346.14 117.74,348.41C119.09,350.67 120.54,351.9 121.78,353.3C123.02,354.71 123.76,354.86 125.18,356.84C126.6,358.82 128.62,362.4 130.28,365.16C131.95,367.93 133.51,370.95 135.17,373.43C136.84,375.92 138.61,378.13 140.27,380.07C141.94,382.01 143.78,382.59 145.16,385.07C146.54,387.56 147.15,393.04 148.56,394.97C149.98,396.91 151.72,397.21 153.66,396.66C155.61,396.11 158.34,391.94 160.25,391.66C162.17,391.37 163.48,393.87 165.14,394.97C166.81,396.08 168.26,397.88 170.24,398.29C172.23,398.71 174.81,398.03 177.05,397.48C179.28,396.92 182.01,395.65 183.64,394.97C185.27,394.29 186.29,393.66 186.83,393.4" stroke="#d41a1a" stroke-width="1.6"/>
<path d="M37.6,338.62C41,337.98 53.76,335.81 58.01,334.81C62.26,333.81 61.34,333.45 63.11,332.63C64.88,331.82 66.79,331.27 68.64,329.91C70.48,328.55 72.53,326.56 74.16,324.47C75.79,322.39 77.14,319.58 78.41,317.4C79.69,315.22 80.82,312.78 81.81,311.42C82.81,310.06 83.27,308.97 84.37,309.24C85.46,309.51 86.7,311.51 88.4,313.05C90.11,314.59 92.55,317.4 94.57,318.49C96.59,319.58 98.86,318.94 100.52,319.58C102.19,320.21 103.36,320.48 104.56,322.3C105.76,324.11 106.4,326.38 107.75,330.46C109.09,334.54 111.15,342.06 112.64,346.78C114.13,351.49 115.44,356.51 116.68,358.74C117.92,360.97 118.66,359.07 120.08,360.16C121.49,361.25 123.48,363.06 125.18,365.27C126.88,367.48 128.62,370.68 130.28,373.43C131.95,376.18 133.51,378.98 135.17,381.76C136.84,384.53 138.61,387.32 140.27,390.08C141.94,392.83 143.64,397.08 145.16,398.29C146.68,399.51 148,397.92 149.41,397.37C150.83,396.81 152.14,394.96 153.66,394.97C155.19,394.99 156.64,396.92 158.55,397.48C160.47,398.03 162.91,398.29 165.14,398.29C167.37,398.29 169.71,397.88 171.95,397.48C174.18,397.08 176.05,396.58 178.53,395.9C181.01,395.22 185.44,393.81 186.83,393.4" stroke="#1a1ad4" stroke-width="1.6"/>
<path d="M37.6,336.44C39.37,336.17 44.83,335.62 48.23,334.81C51.63,333.99 55.53,332.36 58.01,331.54C60.49,330.73 61.44,330.88 63.11,329.91C64.77,328.94 66.37,327.45 68,325.72C69.63,324 71.51,321.87 72.89,319.58C74.27,317.28 75.26,313.86 76.29,311.96C77.32,310.06 78.13,308.51 79.05,308.15C79.97,307.79 81,308.97 81.81,309.78C82.63,310.6 83.16,312.05 83.94,313.05C84.72,314.05 85.43,314.86 86.49,315.77C87.55,316.67 88.65,317.72 90.32,318.49C91.98,319.26 94.78,319.58 96.48,320.39C98.18,321.21 99.17,321.34 100.52,323.38C101.87,325.42 102.86,328.46 104.56,332.63C106.26,336.8 109.02,343.69 110.72,348.41C112.43,353.12 113.42,358.02 114.76,360.92C116.11,363.82 117.46,364.09 118.8,365.82C120.15,367.54 121.78,369.99 122.84,371.26C123.9,372.53 123.94,372.25 125.18,373.43C126.42,374.61 128.62,376.39 130.28,378.33C131.95,380.27 133.51,382.56 135.17,385.07C136.84,387.59 138.61,391.47 140.27,393.4C141.94,395.33 143.5,396.12 145.16,396.66C146.83,397.2 148.31,396.94 150.26,396.66C152.21,396.38 154.37,395.26 156.85,394.97C159.33,394.69 162.34,395.12 165.14,394.97C167.94,394.83 171.13,394.37 173.65,394.1C176.16,393.84 178.04,393.8 180.24,393.4C182.43,392.99 185.73,391.95 186.83,391.66" stroke="#1f8c1f" stroke-width="1.6"/>
<path d="M37.6,348.95C39.37,348.77 44.44,348.43 48.23,347.86C52.02,347.3 57.05,346.26 60.35,345.58C63.64,344.9 65.06,344.76 68,343.78C70.94,342.8 74.59,341.38 77.99,339.7C81.39,338.03 83.98,336.26 88.4,333.72C92.83,331.18 100.17,327.01 104.56,324.47C108.95,321.93 112.39,319.85 114.76,318.49C117.14,317.13 117.28,316.77 118.8,316.31C120.33,315.86 122.56,315.59 123.9,315.77C125.25,315.95 126.03,316.31 126.88,317.4C127.73,318.49 128.3,318.94 129.01,322.3C129.71,325.65 130.1,331.77 131.13,337.53C132.16,343.29 133.65,351.97 135.17,356.84C136.69,361.71 138.61,363.98 140.27,366.74C141.94,369.51 143.5,371.5 145.16,373.43C146.83,375.36 148.63,375.83 150.26,378.33C151.89,380.82 153.56,384.78 154.94,388.39C156.32,392 157.38,397.49 158.55,399.98C159.72,402.47 160.57,402.66 161.95,403.35C163.34,404.04 165.18,404.54 166.84,404.11C168.51,403.69 170.24,401.07 171.95,400.8C173.65,400.52 175.38,402.33 177.05,402.48C178.71,402.64 180.31,402.42 181.94,401.72C183.57,401.02 186.01,398.86 186.83,398.29" stroke="#d41a1a" stroke-width="1.6" stroke-dasharray="3.8,2.0"/>
<path d="M37.6,347.32C39.37,347.14 44.44,346.78 48.23,346.23C52.02,345.69 56.8,344.96 60.35,344.06C63.89,343.15 66.51,342.06 69.49,340.79C72.46,339.52 74.02,338.98 78.2,336.44C82.38,333.9 90.18,328.23 94.57,325.56C98.96,322.89 102.04,322.11 104.56,320.39C107.08,318.67 108.24,316.27 109.66,315.22C111.08,314.18 112.04,313.95 113.06,314.14C114.09,314.32 114.87,314.95 115.83,316.31C116.78,317.67 117.63,319.94 118.8,322.3C119.97,324.65 121.49,328.01 122.84,330.46C124.19,332.9 125.64,333.54 126.88,336.98C128.12,340.43 128.9,345.89 130.28,351.13C131.66,356.37 133.51,364.71 135.17,368.43C136.84,372.14 138.61,371.21 140.27,373.43C141.94,375.65 143.64,378.43 145.16,381.76C146.68,385.08 148,389.53 149.41,393.4C150.83,397.27 152.53,402.92 153.66,404.98C154.8,407.05 155.12,406.63 156.21,405.8C157.31,404.97 158.77,400.66 160.25,399.98C161.74,399.3 163.48,400.61 165.14,401.72C166.81,402.83 168.54,406.07 170.24,406.62C171.95,407.16 173.4,406.09 175.35,404.98C177.29,403.88 180.02,401.65 181.94,399.98C183.85,398.31 186.01,395.81 186.83,394.97" stroke="#1a1ad4" stroke-width="1.6" stroke-dasharray="3.8,2.0"/>
<path d="M37.6,346.5C39.37,346.28 44.44,345.76 48.23,345.14C52.02,344.53 56.8,343.8 60.35,342.8C63.89,341.81 66.51,340.67 69.49,339.16C72.46,337.65 74.73,335.99 78.2,333.72C81.67,331.45 87.27,327.78 90.32,325.56C93.36,323.34 94.78,322.3 96.48,320.39C98.18,318.49 99.46,315.9 100.52,314.14C101.58,312.37 102.01,309.42 102.86,309.78C103.71,310.15 104.81,313.55 105.62,316.31C106.44,319.08 106.9,323.38 107.75,326.38C108.6,329.37 109.56,332.22 110.72,334.26C111.89,336.3 113.2,337.21 114.76,338.62C116.32,340.02 118.06,340.76 120.08,342.7C122.1,344.63 124.93,347.29 126.88,350.2C128.83,353.11 130.1,356.29 131.77,360.16C133.43,364.03 135.45,369.02 136.87,373.43C138.29,377.85 139.17,381.94 140.27,386.65C141.37,391.37 142.65,398.81 143.46,401.72C144.28,404.63 144.03,404.27 145.16,404.11C146.29,403.96 148.31,401.9 150.26,400.8C152.21,399.69 154.62,397.32 156.85,397.48C159.08,397.63 161.71,400.33 163.65,401.72C165.6,403.11 166.6,405.8 168.54,405.8C170.49,405.8 173.11,403.24 175.35,401.72C177.58,400.2 180.02,398.05 181.94,396.66C183.85,395.27 186.01,393.94 186.83,393.4" stroke="#1f8c1f" stroke-width="1.6" stroke-dasharray="3.8,2.0"/>
</g>
<rect x="37.6" y="249.4" width="148.8" height="163.2" fill="none" stroke="#000" stroke-width="1.5"/>
<path d="M37.6,412.6h5M186.4,412.6h-5M37.6,407.16h3M186.4,407.16h-3M37.6,401.72h3M186.4,401.72h-3M37.6,396.28h3M186.4,396.28h-3M37.6,390.84h3M186.4,390.84h-3M37.6,385.4h5M186.4,385.4h-5M37.6,379.96h3M186.4,379.96h-3M37.6,374.52h3M186.4,374.52h-3M37.6,369.08h3M186.4,369.08h-3M37.6,363.64h3M186.4,363.64h-3M37.6,358.2h5M186.4,358.2h-5M37.6,352.76h3M186.4,352.76h-3M37.6,347.32h3M186.4,347.32h-3M37.6,341.88h3M186.4,341.88h-3M37.6,336.44h3M186.4,336.44h-3M37.6,331h5M186.4,331h-5M37.6,325.56h3M186.4,325.56h-3M37.6,320.12h3M186.4,320.12h-3M37.6,314.68h3M186.4,314.68h-3M37.6,309.24h3M186.4,309.24h-3M37.6,303.8h5M186.4,303.8h-5M37.6,298.36h3M186.4,298.36h-3M37.6,292.92h3M186.4,292.92h-3M37.6,287.48h3M186.4,287.48h-3M37.6,282.04h3M186.4,282.04h-3M37.6,276.6h5M186.4,276.6h-5M37.6,271.16h3M186.4,271.16h-3M37.6,265.72h3M186.4,265.72h-3M37.6,260.28h3M186.4,260.28h-3M37.6,254.84h3M186.4,254.84h-3M37.6,249.4h5M186.4,249.4h-5M37.6,412.6v-5M37.6,249.4v5M48.23,412.6v-3M48.23,249.4v3M58.86,412.6v-3M58.86,249.4v3M69.49,412.6v-3M69.49,249.4v3M80.11,412.6v-5M80.11,249.4v5M90.74,412.6v-3M90.74,249.4v3M101.37,412.6v-3M101.37,249.4v3M112,412.6v-3M112,249.4v3M122.63,412.6v-5M122.63,249.4v5M133.26,412.6v-3M133.26,249.4v3M143.89,412.6v-3M143.89,249.4v3M154.51,412.6v-3M154.51,249.4v3M165.14,412.6v-5M165.14,249.4v5M175.77,412.6v-3M175.77,249.4v3M186.4,412.6v-3M186.4,249.4v3" stroke="#000" stroke-width="1.2" fill="none"/>
<text x="34.4" y="416.9" font-size="12" text-anchor="end" fill="#000" >−5</text>
<text x="34.4" y="389.7" font-size="12" text-anchor="end" fill="#000" >0</text>
<text x="34.4" y="362.5" font-size="12" text-anchor="end" fill="#000" >5</text>
<text x="34.4" y="335.3" font-size="12" text-anchor="end" fill="#000" >10</text>
<text x="34.4" y="308.1" font-size="12" text-anchor="end" fill="#000" >15</text>
<text x="34.4" y="280.9" font-size="12" text-anchor="end" fill="#000" >20</text>
<text x="34.4" y="253.7" font-size="12" text-anchor="end" fill="#000" >25</text>
<text x="37.6" y="423.8" font-size="12" text-anchor="middle" fill="#000" >0</text>
<text x="80.11" y="423.8" font-size="12" text-anchor="middle" fill="#000" >2</text>
<text x="122.63" y="423.8" font-size="12" text-anchor="middle" fill="#000" >4</text>
<text x="165.14" y="423.8" font-size="12" text-anchor="middle" fill="#000" >6</text>
<text x="112" y="441" font-size="12.5" text-anchor="middle" fill="#000" >Photon Energy (eV)</text>
<text x="1.25" y="238.6" font-size="15.5" text-anchor="start" fill="#000" >(d)</text>
<text transform="translate(11.6,331) rotate(-90)" font-size="12.5" text-anchor="middle">ε<tspan font-size="8.7" dy="2.8">1</tspan></text>
<clipPath id="clipe"><rect x="223.8" y="249.4" width="148.5" height="163.2"/></clipPath>
<g clip-path="url(#clipe)" fill="none">
<path d="M223.8,412.6C228.04,412.57 243.25,412.52 249.26,412.44C255.27,412.36 256.97,412.42 259.86,412.11C262.76,411.8 264.81,411.74 266.65,410.56C268.49,409.38 269.55,408.21 270.9,405.01C272.24,401.82 273.12,397.26 274.71,391.38C276.31,385.51 278.57,376.15 280.44,369.76C282.32,363.37 284.12,358.08 285.96,353.03C287.8,347.99 289.88,343.57 291.47,339.49C293.06,335.41 294.13,332.01 295.5,328.55C296.88,325.1 298.12,320.8 299.75,318.76C301.37,316.72 303.67,316.31 305.26,316.31C306.85,316.31 307.77,318.99 309.29,318.76C310.81,318.53 312.9,316.22 314.38,314.92C315.87,313.63 316.93,310.78 318.2,311.01C319.48,311.24 320.5,314.16 322.02,316.31C323.54,318.46 325.81,321.55 327.33,323.9C328.85,326.25 329.87,329.11 331.14,330.43C332.42,331.75 333.87,329.41 334.96,331.82C336.06,334.22 336.84,341.2 337.72,344.87C338.6,348.54 338.99,351.94 340.27,353.85C341.54,355.75 343.41,355.89 345.36,356.3C347.3,356.7 349.95,354.8 351.93,356.3C353.91,357.79 355.51,362.01 357.24,365.27C358.97,368.54 360.38,373.3 362.33,375.88C364.27,378.46 366.89,379.74 368.91,380.78C370.92,381.81 373.5,381.86 374.42,382.08" stroke="#d41a1a" stroke-width="1.6"/>
<path d="M223.8,412.6C226.98,412.57 237.94,412.55 242.89,412.44C247.84,412.33 250.46,412.26 253.5,411.95C256.54,411.63 259.16,411.72 261.14,410.56C263.12,409.4 264.18,407.94 265.38,405.01C266.58,402.09 267.22,398.01 268.35,393.02C269.48,388.02 270.61,380.37 272.17,375.06C273.72,369.76 275.63,366.22 277.68,361.19C279.74,356.16 282.63,351.26 284.47,344.87C286.31,338.48 287.34,328.08 288.72,322.84C290.09,317.6 291.62,315.63 292.75,313.46C293.88,311.28 294.34,309.99 295.5,309.78C296.67,309.58 298.12,310.87 299.75,312.23C301.37,313.59 303.67,316.86 305.26,317.94C306.85,319.03 308.45,319.44 309.29,318.76C310.14,318.08 309.29,313.66 310.35,313.86C311.41,314.07 313.93,318.31 315.66,319.98C317.39,321.66 319.02,322.81 320.75,323.9C322.48,324.99 324.32,324.78 326.05,326.51C327.79,328.24 329.41,330.8 331.14,334.26C332.88,337.73 335.14,343.65 336.45,347.32C337.76,350.99 337.93,354.6 338.99,356.3C340.05,358 341.29,357.32 342.81,357.52C344.33,357.72 346.6,356.64 348.12,357.52C349.64,358.4 350.41,360.25 351.93,362.82C353.45,365.39 355.08,369.95 357.24,372.94C359.39,375.93 362.01,378.79 364.88,380.78C367.74,382.76 372.83,384.18 374.42,384.86" stroke="#1a1ad4" stroke-width="1.6"/>
<path d="M223.8,412.6C225.57,412.57 230.87,412.55 234.41,412.44C237.94,412.33 242.19,412.14 245.01,411.95C247.84,411.76 249.61,411.59 251.38,411.29C253.15,411 254.17,411.2 255.62,410.15C257.07,409.1 258.84,407.87 260.08,405.01C261.31,402.16 262.16,397.06 263.05,393.02C263.93,388.98 264.32,385.54 265.38,380.78C266.44,376.02 267.36,369.08 269.41,364.46C271.46,359.83 275.39,356.7 277.68,353.03C279.98,349.36 281.61,347.86 283.2,342.42C284.79,336.98 285.85,325.9 287.23,320.39C288.61,314.88 290.31,311.82 291.47,309.38C292.64,306.93 293.1,305.5 294.23,305.7C295.36,305.91 296.88,308.83 298.26,310.6C299.64,312.37 300.88,314.95 302.5,316.31C304.13,317.67 306.71,318.22 308.02,318.76C309.33,319.3 309.29,318.76 310.35,319.58C311.41,320.39 313.08,322.02 314.38,323.66C315.69,325.29 316.72,327.19 318.2,329.37C319.69,331.54 321.56,333.72 323.3,336.71C325.03,339.7 326.87,344.29 328.6,347.32C330.33,350.35 331.96,352.79 333.69,354.91C335.42,357.03 337.26,358.32 338.99,360.05C340.73,361.78 341.93,363.12 344.09,365.27C346.24,367.42 349.35,370.77 351.93,372.94C354.52,375.12 356.99,376.59 359.57,378.33C362.15,380.07 364.95,382.12 367.42,383.39C369.9,384.65 373.25,385.5 374.42,385.92" stroke="#1f8c1f" stroke-width="1.6"/>
<path d="M223.8,412.6C230.52,412.57 255.13,412.71 264.11,412.44C273.09,412.16 273.58,413.06 277.68,410.97C281.79,408.87 285.04,405.38 288.72,399.87C292.39,394.36 296.99,385.18 299.75,377.92C302.5,370.66 303.42,364.06 305.26,356.3C307.1,348.53 309.26,338.87 310.78,331.33C312.3,323.78 313.15,316.77 314.38,311.01C315.62,305.24 317.14,299.31 318.2,296.73C319.26,294.14 319.65,294.82 320.75,295.5C321.85,296.18 323.47,298.43 324.78,300.81C326.09,303.19 327.33,307.01 328.6,309.78C329.87,312.56 331.11,316.37 332.42,317.45C333.73,318.54 334.93,316.31 336.45,316.31C337.97,316.31 340.05,314.87 341.54,317.45C343.02,320.04 344.05,326.84 345.36,331.82C346.67,336.79 347.87,343.04 349.39,347.32C350.91,351.6 352.78,354.53 354.48,357.52C356.18,360.51 357.84,362.7 359.57,365.27C361.3,367.84 363.25,370.79 364.88,372.94C366.5,375.09 367.74,376.86 369.33,378.16C370.92,379.47 373.57,380.34 374.42,380.78" stroke="#d41a1a" stroke-width="1.6" stroke-dasharray="3.8,2.0"/>
<path d="M223.8,412.6C229.81,412.57 251.8,412.71 259.86,412.44C267.93,412.16 268.28,413.52 272.17,410.97C276.06,408.41 279.98,402.13 283.2,397.1C286.42,392.06 289.18,386.22 291.47,380.78C293.77,375.34 295.15,370.44 296.99,364.46C298.83,358.47 300.67,351.26 302.5,344.87C304.34,338.48 306.57,332.5 308.02,326.1C309.47,319.71 310.14,311.42 311.2,306.52C312.26,301.62 313.22,297.68 314.38,296.73C315.55,295.78 316.93,298.63 318.2,300.81C319.48,302.98 320.71,308.29 322.02,309.78C323.33,311.28 324.53,310.06 326.05,309.78C327.57,309.51 329.66,307.95 331.14,308.15C332.63,308.36 333.87,308.38 334.96,311.01C336.06,313.63 336.62,319.17 337.72,323.9C338.82,328.63 340.05,334.24 341.54,339.4C343.02,344.57 344.69,351.47 346.63,354.91C348.58,358.35 351.26,357.47 353.21,360.05C355.15,362.63 356.35,366.96 358.3,370.41C360.24,373.87 362.19,377.77 364.88,380.78C367.56,383.78 372.83,387.17 374.42,388.45" stroke="#1a1ad4" stroke-width="1.6" stroke-dasharray="3.8,2.0"/>
<path d="M223.8,412.6C229.1,412.57 248.55,412.78 255.62,412.44C262.69,412.1 263.68,411.8 266.23,410.56C268.77,409.32 268.99,407.26 270.9,405.01C272.81,402.77 275.63,401.61 277.68,397.1C279.74,392.58 281.61,385.26 283.2,377.92C284.79,370.58 285.85,360.31 287.23,353.03C288.61,345.76 290.09,337.2 291.47,334.26C292.85,331.33 294.13,335 295.5,335.41C296.88,335.81 298.12,337.39 299.75,336.71C301.37,336.03 303.42,333.6 305.26,331.33C307.1,329.06 308.94,326.74 310.78,323.08C312.62,319.43 314.88,313.5 316.29,309.38C317.71,305.26 318.31,300.67 319.26,298.36C320.22,296.05 320.89,293.87 322.02,295.5C323.15,297.14 324.74,303.87 326.05,308.15C327.36,312.44 328.6,316.45 329.87,321.21C331.14,325.97 332.17,331.95 333.69,336.71C335.21,341.47 337.05,346.3 338.99,349.77C340.94,353.24 343.2,356.02 345.36,357.52C347.51,359.02 349.95,355.68 351.93,358.74C353.91,361.8 355.51,371.77 357.24,375.88C358.97,379.99 360.38,381.29 362.33,383.39C364.27,385.48 366.89,386.95 368.91,388.45C370.92,389.94 373.5,391.71 374.42,392.36" stroke="#1f8c1f" stroke-width="1.6" stroke-dasharray="3.8,2.0"/>
</g>
<rect x="223.8" y="249.4" width="148.5" height="163.2" fill="none" stroke="#000" stroke-width="1.5"/>
<path d="M223.8,412.6h5M372.3,412.6h-5M223.8,404.44h3M372.3,404.44h-3M223.8,396.28h3M372.3,396.28h-3M223.8,388.12h3M372.3,388.12h-3M223.8,379.96h3M372.3,379.96h-3M223.8,371.8h5M372.3,371.8h-5M223.8,363.64h3M372.3,363.64h-3M223.8,355.48h3M372.3,355.48h-3M223.8,347.32h3M372.3,347.32h-3M223.8,339.16h3M372.3,339.16h-3M223.8,331h5M372.3,331h-5M223.8,322.84h3M372.3,322.84h-3M223.8,314.68h3M372.3,314.68h-3M223.8,306.52h3M372.3,306.52h-3M223.8,298.36h3M372.3,298.36h-3M223.8,290.2h5M372.3,290.2h-5M223.8,282.04h3M372.3,282.04h-3M223.8,273.88h3M372.3,273.88h-3M223.8,265.72h3M372.3,265.72h-3M223.8,257.56h3M372.3,257.56h-3M223.8,249.4h5M372.3,249.4h-5M223.8,412.6v-5M223.8,249.4v5M234.41,412.6v-3M234.41,249.4v3M245.01,412.6v-3M245.01,249.4v3M255.62,412.6v-3M255.62,249.4v3M266.23,412.6v-5M266.23,249.4v5M276.84,412.6v-3M276.84,249.4v3M287.44,412.6v-3M287.44,249.4v3M298.05,412.6v-3M298.05,249.4v3M308.66,412.6v-5M308.66,249.4v5M319.26,412.6v-3M319.26,249.4v3M329.87,412.6v-3M329.87,249.4v3M340.48,412.6v-3M340.48,249.4v3M351.09,412.6v-5M351.09,249.4v5M361.69,412.6v-3M361.69,249.4v3M372.3,412.6v-3M372.3,249.4v3" stroke="#000" stroke-width="1.2" fill="none"/>
<text x="220.6" y="416.9" font-size="12" text-anchor="end" fill="#000" >0</text>
<text x="220.6" y="376.1" font-size="12" text-anchor="end" fill="#000" >5</text>
<text x="220.6" y="335.3" font-size="12" text-anchor="end" fill="#000" >10</text>
<text x="220.6" y="294.5" font-size="12" text-anchor="end" fill="#000" >15</text>
<text x="220.6" y="253.7" font-size="12" text-anchor="end" fill="#000" >20</text>
<text x="223.8" y="423.8" font-size="12" text-anchor="middle" fill="#000" >0</text>
<text x="266.23" y="423.8" font-size="12" text-anchor="middle" fill="#000" >2</text>
<text x="308.66" y="423.8" font-size="12" text-anchor="middle" fill="#000" >4</text>
<text x="351.09" y="423.8" font-size="12" text-anchor="middle" fill="#000" >6</text>
<text x="298.05" y="441" font-size="12.5" text-anchor="middle" fill="#000" >Photon Energy (eV)</text>
<text x="191.5" y="238.6" font-size="15.5" text-anchor="start" fill="#000" >(e)</text>
<text transform="translate(197.8,331) rotate(-90)" font-size="12.5" text-anchor="middle">ε<tspan font-size="8.7" dy="2.8">2</tspan></text>
<clipPath id="clipf"><rect x="419.4" y="249.4" width="149.1" height="163.2"/></clipPath>
<g clip-path="url(#clipf)" fill="none">
<path d="M419.4,412.6C426.14,412.6 452.34,412.87 459.87,412.6C467.4,412.33 462.64,412.6 464.56,410.97C466.47,409.34 469.31,405.53 471.37,402.81C473.43,400.09 474.6,397.91 476.91,394.65C479.22,391.38 482.91,386.9 485.22,383.22C487.52,379.55 488.91,376.29 490.75,372.62C492.6,368.94 494.45,364.46 496.29,361.19C498.14,357.93 500.2,355.07 501.83,353.03C503.46,350.99 504.71,351.26 506.09,348.95C507.48,346.64 509,341.88 510.14,339.16C511.27,336.44 511.66,334.6 512.91,332.63C514.15,330.66 515.78,329 517.59,327.33C519.4,325.66 521.92,324.16 523.77,322.6C525.62,321.03 527.32,320.17 528.67,317.94C530.02,315.71 530.94,310.93 531.86,309.21C532.79,307.5 533.43,307.27 534.21,307.66C534.99,308.06 535.52,309.87 536.55,311.58C537.58,313.29 539.07,317.67 540.38,317.94C541.7,318.22 542.98,314.92 544.43,313.21C545.89,311.5 547.8,308.72 549.12,307.66C550.43,306.6 550.96,306.45 552.31,306.85C553.66,307.24 555.61,308.83 557.21,310.03C558.81,311.23 560.33,312.71 561.9,314.03C563.46,315.35 565.48,317.05 566.58,317.94C567.68,318.84 568.18,319.17 568.5,319.41" stroke="#d41a1a" stroke-width="1.6"/>
<path d="M419.4,412.6C425.08,412.6 446.88,412.87 453.48,412.6C460.08,412.33 456.96,412.6 459.02,410.97C461.08,409.34 463.77,405.12 465.83,402.81C467.89,400.5 469.06,399.41 471.37,397.1C473.68,394.78 477.37,392.06 479.68,388.94C481.99,385.81 483.37,382.68 485.22,378.33C487.06,373.98 489.12,366.5 490.75,362.82C492.39,359.15 493.38,358.06 495.01,356.3C496.65,354.53 498.96,353.71 500.55,352.22C502.15,350.72 503.22,349.5 504.6,347.32C505.98,345.14 507.69,341.61 508.86,339.16C510.03,336.71 510.24,334.4 511.63,332.63C513.01,330.86 515.64,330.22 517.17,328.55C518.69,326.88 519.69,324.12 520.79,322.6C521.89,321.07 522.85,320.98 523.77,319.41C524.69,317.85 525.51,314.11 526.33,313.21C527.14,312.31 527.75,313.24 528.67,314.03C529.59,314.82 530.69,316.65 531.86,317.94C533.04,319.24 534.53,321.64 535.7,321.78C536.87,321.92 537.69,320.05 538.89,318.76C540.1,317.47 541.48,315.09 542.94,314.03C544.4,312.97 546.31,312.53 547.63,312.4C548.94,312.26 549.51,312.56 550.82,313.21C552.13,313.86 553.91,315.39 555.51,316.31C557.1,317.24 558.81,317.71 560.41,318.76C562,319.81 563.74,321.44 565.09,322.6C566.44,323.75 567.93,325.18 568.5,325.7" stroke="#1a1ad4" stroke-width="1.6"/>
<path d="M419.4,412.6C424.37,412.6 443.29,412.87 449.22,412.6C455.15,412.33 453.09,412.6 454.97,410.97C456.85,409.34 458.7,405.39 460.51,402.81C462.32,400.22 464.02,397.37 465.83,395.46C467.64,393.56 469.53,392.88 471.37,391.38C473.22,389.89 475.03,388.66 476.91,386.49C478.79,384.31 480.78,382 482.66,378.33C484.54,374.66 486.6,368.13 488.2,364.46C489.8,360.78 490.9,358.2 492.25,356.3C493.59,354.39 494.91,354.66 496.29,353.03C497.68,351.4 499.17,348.14 500.55,346.5C501.94,344.87 503.22,344.46 504.6,343.24C505.98,342.02 507.69,340.93 508.86,339.16C510.03,337.39 510.49,334.4 511.63,332.63C512.76,330.86 514.08,329.91 515.68,328.55C517.27,327.19 519.86,325.6 521.21,324.47C522.56,323.34 522.53,322.09 523.77,321.78C525.01,321.47 527.32,323.23 528.67,322.6C530.02,321.96 530.83,318.99 531.86,317.94C532.89,316.9 533.78,316.07 534.85,316.31C535.91,316.56 536.9,318.77 538.25,319.41C539.6,320.05 541.38,320.26 542.94,320.15C544.5,320.04 546.31,318.99 547.63,318.76C548.94,318.53 549.51,318.53 550.82,318.76C552.13,318.99 553.91,319.92 555.51,320.15C557.1,320.38 558.81,319.74 560.41,320.15C562,320.56 563.74,321.81 565.09,322.6C566.44,323.38 567.93,324.5 568.5,324.88" stroke="#1f8c1f" stroke-width="1.6"/>
<path d="M419.4,412.6C427.92,412.6 460.94,412.87 470.52,412.6C480.1,412.33 473.96,413.14 476.91,410.97C479.86,408.79 484.97,402.81 488.2,399.54C491.43,396.28 493.56,394.51 496.29,391.38C499.03,388.26 502.51,384.45 504.6,380.78C506.69,377.1 507.69,374.38 508.86,369.35C510.03,364.32 510.85,356.43 511.63,350.58C512.41,344.74 512.41,338.34 513.55,334.26C514.68,330.18 516.74,327.53 518.45,326.1C520.15,324.68 522.07,327.06 523.77,325.7C525.47,324.34 527.07,320.81 528.67,317.94C530.27,315.07 532.04,311.88 533.36,308.48C534.67,305.08 535.48,300.45 536.55,297.54C537.62,294.63 538.96,292.31 539.75,291.02C540.53,289.72 540.56,289.52 541.24,289.79C541.91,290.06 542.87,290.85 543.79,292.65C544.72,294.44 545.6,299.52 546.77,300.56C547.95,301.61 549.37,299.84 550.82,298.93C552.28,298.02 554.19,295.87 555.51,295.1C556.82,294.32 557.64,293.87 558.7,294.28C559.77,294.69 560.83,295.98 561.9,297.54C562.96,299.11 563.99,301.35 565.09,303.66C566.19,305.98 567.93,310.12 568.5,311.42" stroke="#d41a1a" stroke-width="1.6" stroke-dasharray="3.8,2.0"/>
<path d="M419.4,412.6C427.21,412.6 457.6,412.87 466.26,412.6C474.92,412.33 468.64,412.6 471.37,410.97C474.11,409.34 479.43,406.48 482.66,402.81C485.89,399.14 488.48,393.02 490.75,388.94C493.03,384.86 494.45,382 496.29,378.33C498.14,374.66 500.2,370.58 501.83,366.9C503.46,363.23 504.71,360.92 506.09,356.3C507.48,351.67 508.75,343.78 510.14,339.16C511.52,334.54 512.62,331.54 514.4,328.55C516.17,325.56 519.23,323.25 520.79,321.21C522.35,319.17 522.46,319.75 523.77,316.31C525.08,312.87 527.32,304.24 528.67,300.56C530.02,296.89 530.94,295.71 531.86,294.28C532.79,292.85 533.43,292 534.21,292C534.99,292 535.63,292.85 536.55,294.28C537.47,295.71 538.68,298.2 539.75,300.56C540.81,302.93 541.91,308.21 542.94,308.48C543.97,308.75 544.86,304.56 545.92,302.2C546.99,299.83 548.41,295.87 549.33,294.28C550.25,292.69 550.68,292.51 551.46,292.65C552.24,292.78 553.06,293.5 554.02,295.1C554.97,296.69 555.9,299.48 557.21,302.2C558.52,304.92 560.33,308.79 561.9,311.42C563.46,314.04 565.48,316.58 566.58,317.94C567.68,319.3 568.18,319.3 568.5,319.58" stroke="#1a1ad4" stroke-width="1.6" stroke-dasharray="3.8,2.0"/>
<path d="M419.4,412.6C426.85,412.6 455.89,412.87 464.13,412.6C472.37,412.33 466.69,412.6 468.82,410.97C470.95,409.34 474.18,406.89 476.91,402.81C479.64,398.73 482.91,391.11 485.22,386.49C487.52,381.86 488.66,378.33 490.75,375.06C492.85,371.8 495.48,370.03 497.78,366.9C500.09,363.78 502.54,360.38 504.6,356.3C506.66,352.22 508.5,347.05 510.14,342.42C511.77,337.8 512.91,333.72 514.4,328.55C515.89,323.38 517.77,315.56 519.08,311.42C520.4,307.27 521.21,305.47 522.28,303.66C523.34,301.86 524.44,300.56 525.47,300.56C526.5,300.56 527.39,301.86 528.46,303.66C529.52,305.47 530.8,309.58 531.86,311.42C532.93,313.25 533.53,315.44 534.85,314.68C536.16,313.92 538.15,309.2 539.75,306.85C541.34,304.49 543.12,301.88 544.43,300.56C545.74,299.24 546.56,298.14 547.63,298.93C548.69,299.72 549.51,302.4 550.82,305.3C552.13,308.19 553.91,313.39 555.51,316.31C557.1,319.24 558.81,320.49 560.41,322.84C562,325.19 563.74,328.39 565.09,330.43C566.44,332.47 567.93,334.3 568.5,335.08" stroke="#1f8c1f" stroke-width="1.6" stroke-dasharray="3.8,2.0"/>
</g>
<rect x="419.4" y="249.4" width="149.1" height="163.2" fill="none" stroke="#000" stroke-width="1.5"/>
<path d="M419.4,412.6h5M568.5,412.6h-5M419.4,404.44h3M568.5,404.44h-3M419.4,396.28h3M568.5,396.28h-3M419.4,388.12h3M568.5,388.12h-3M419.4,379.96h3M568.5,379.96h-3M419.4,371.8h5M568.5,371.8h-5M419.4,363.64h3M568.5,363.64h-3M419.4,355.48h3M568.5,355.48h-3M419.4,347.32h3M568.5,347.32h-3M419.4,339.16h3M568.5,339.16h-3M419.4,331h5M568.5,331h-5M419.4,322.84h3M568.5,322.84h-3M419.4,314.68h3M568.5,314.68h-3M419.4,306.52h3M568.5,306.52h-3M419.4,298.36h3M568.5,298.36h-3M419.4,290.2h5M568.5,290.2h-5M419.4,282.04h3M568.5,282.04h-3M419.4,273.88h3M568.5,273.88h-3M419.4,265.72h3M568.5,265.72h-3M419.4,257.56h3M568.5,257.56h-3M419.4,249.4h5M568.5,249.4h-5M419.4,412.6v-5M419.4,249.4v5M430.05,412.6v-3M430.05,249.4v3M440.7,412.6v-3M440.7,249.4v3M451.35,412.6v-3M451.35,249.4v3M462,412.6v-5M462,249.4v5M472.65,412.6v-3M472.65,249.4v3M483.3,412.6v-3M483.3,249.4v3M493.95,412.6v-3M493.95,249.4v3M504.6,412.6v-5M504.6,249.4v5M515.25,412.6v-3M515.25,249.4v3M525.9,412.6v-3M525.9,249.4v3M536.55,412.6v-3M536.55,249.4v3M547.2,412.6v-5M547.2,249.4v5M557.85,412.6v-3M557.85,249.4v3M568.5,412.6v-3M568.5,249.4v3" stroke="#000" stroke-width="1.2" fill="none"/>
<text x="416.2" y="416.9" font-size="12" text-anchor="end" fill="#000" >0.0</text>
<text x="416.2" y="376.1" font-size="12" text-anchor="end" fill="#000" >0.5</text>
<text x="416.2" y="335.3" font-size="12" text-anchor="end" fill="#000" >1.0</text>
<text x="416.2" y="294.5" font-size="12" text-anchor="end" fill="#000" >1.5</text>
<text x="416.2" y="253.7" font-size="12" text-anchor="end" fill="#000" >2.0</text>
<text x="419.4" y="423.8" font-size="12" text-anchor="middle" fill="#000" >0</text>
<text x="462" y="423.8" font-size="12" text-anchor="middle" fill="#000" >2</text>
<text x="504.6" y="423.8" font-size="12" text-anchor="middle" fill="#000" >4</text>
<text x="547.2" y="423.8" font-size="12" text-anchor="middle" fill="#000" >6</text>
<text x="493.95" y="441" font-size="12.5" text-anchor="middle" fill="#000" >Photon Energy (eV)</text>
<text x="384.3" y="238.6" font-size="15.5" text-anchor="start" fill="#000" >(f)</text>
<text transform="translate(393.4,331) rotate(-90)" font-size="12.5" text-anchor="middle">α (10<tspan font-size="7.5" dy="-6">6</tspan><tspan dy="6">/cm)</tspan></text>
<text x="59.4" y="265" font-size="10" text-anchor="start" fill="#000" >xx = yy</text>
<text x="100" y="265" font-size="10" text-anchor="start" fill="#000" >zz</text>
<line x1="64.2" y1="270.2" x2="86" y2="270.2" stroke="#d01818" stroke-width="1.8"/>
<line x1="93.8" y1="270.2" x2="116.2" y2="270.2" stroke="#d01818" stroke-width="1.8" stroke-dasharray="2.3,2.65"/>
<text x="126.6" y="274.5" font-size="10.1" text-anchor="start" fill="#c01414" stroke="#c01414" stroke-width="0.25">Bi<tspan font-size="6.3" dy="1.0">2</tspan><tspan dy="-1.0">O</tspan><tspan font-size="6.3" dy="1.0">2</tspan><tspan dy="-1.0">S</tspan></text>
<line x1="64.2" y1="284.5" x2="86" y2="284.5" stroke="#1818d0" stroke-width="1.8"/>
<line x1="93.8" y1="284.5" x2="116.2" y2="284.5" stroke="#1818d0" stroke-width="1.8" stroke-dasharray="2.3,2.65"/>
<text x="126.6" y="288.8" font-size="10.1" text-anchor="start" fill="#1414c4" stroke="#1414c4" stroke-width="0.25">Bi<tspan font-size="6.3" dy="1.0">2</tspan><tspan dy="-1.0">O</tspan><tspan font-size="6.3" dy="1.0">2</tspan><tspan dy="-1.0">Se</tspan></text>
<line x1="64.2" y1="298.8" x2="86" y2="298.8" stroke="#208a20" stroke-width="1.8"/>
<line x1="93.8" y1="298.8" x2="116.2" y2="298.8" stroke="#208a20" stroke-width="1.8" stroke-dasharray="2.3,2.65"/>
<text x="126.6" y="303.1" font-size="10.1" text-anchor="start" fill="#1a801a" stroke="#1a801a" stroke-width="0.25">Bi<tspan font-size="6.3" dy="1.0">2</tspan><tspan dy="-1.0">O</tspan><tspan font-size="6.3" dy="1.0">2</tspan><tspan dy="-1.0">Te</tspan></text>
</svg>
</body></html>
